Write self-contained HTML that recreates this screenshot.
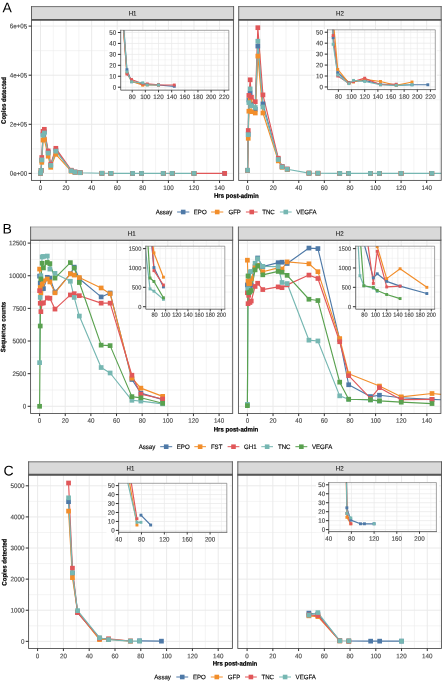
<!DOCTYPE html>
<html lang="en"><head><meta charset="utf-8"><title>Figure</title>
<style>html,body{margin:0;padding:0;background:#fff}svg{display:block;text-rendering:geometricPrecision}text{white-space:pre}</style>
</head><body>
<svg width="442" height="685" viewBox="0 0 442 685" font-family="'Liberation Sans', Arial, sans-serif">
<rect width="442" height="685" fill="#fff"/>
<text transform="translate(2.6 12.2) rotate(0.3)" font-size="14" fill="#000">A</text>
<text transform="translate(5.9 100.5) rotate(-89.7) scale(0.946 1)" font-size="6.45" fill="#000" stroke="#000" stroke-width="0.22" text-anchor="middle" font-weight="bold">Copies detected</text>
<clipPath id="c1"><rect x="31.5" y="20.1" width="202.1" height="160.3"/></clipPath>
<rect x="31.5" y="20.1" width="202.1" height="160.3" fill="#fff"/>
<g clip-path="url(#c1)">
<path d="M31.5 148.85H233.6" stroke="#E9E9E9" stroke-width="0.5" fill="none"/>
<path d="M31.5 99.75H233.6" stroke="#E9E9E9" stroke-width="0.5" fill="none"/>
<path d="M31.5 50.65H233.6" stroke="#E9E9E9" stroke-width="0.5" fill="none"/>
<path d="M53.29 20.1V180.4" stroke="#E9E9E9" stroke-width="0.5" fill="none"/>
<path d="M78.87 20.1V180.4" stroke="#E9E9E9" stroke-width="0.5" fill="none"/>
<path d="M104.45 20.1V180.4" stroke="#E9E9E9" stroke-width="0.5" fill="none"/>
<path d="M130.03 20.1V180.4" stroke="#E9E9E9" stroke-width="0.5" fill="none"/>
<path d="M155.61 20.1V180.4" stroke="#E9E9E9" stroke-width="0.5" fill="none"/>
<path d="M181.19 20.1V180.4" stroke="#E9E9E9" stroke-width="0.5" fill="none"/>
<path d="M206.77 20.1V180.4" stroke="#E9E9E9" stroke-width="0.5" fill="none"/>
<path d="M232.35 20.1V180.4" stroke="#E9E9E9" stroke-width="0.5" fill="none"/>
<path d="M31.5 173.4H233.6" stroke="#E9E9E9" stroke-width="0.95" fill="none"/>
<path d="M31.5 124.3H233.6" stroke="#E9E9E9" stroke-width="0.95" fill="none"/>
<path d="M31.5 75.2H233.6" stroke="#E9E9E9" stroke-width="0.95" fill="none"/>
<path d="M31.5 26.1H233.6" stroke="#E9E9E9" stroke-width="0.95" fill="none"/>
<path d="M40.5 20.1V180.4" stroke="#E9E9E9" stroke-width="0.95" fill="none"/>
<path d="M66.08 20.1V180.4" stroke="#E9E9E9" stroke-width="0.95" fill="none"/>
<path d="M91.66 20.1V180.4" stroke="#E9E9E9" stroke-width="0.95" fill="none"/>
<path d="M117.24 20.1V180.4" stroke="#E9E9E9" stroke-width="0.95" fill="none"/>
<path d="M142.82 20.1V180.4" stroke="#E9E9E9" stroke-width="0.95" fill="none"/>
<path d="M168.4 20.1V180.4" stroke="#E9E9E9" stroke-width="0.95" fill="none"/>
<path d="M193.98 20.1V180.4" stroke="#E9E9E9" stroke-width="0.95" fill="none"/>
<path d="M219.56 20.1V180.4" stroke="#E9E9E9" stroke-width="0.95" fill="none"/>
<path d="M40.5 173.2L41.14 170.4L41.78 160.5L43.06 134.3L44.34 131.8L48.17 152.2L50.73 165.2L55.85 150.2L71.2 170.6L75.03 172.1L80.15 172.6" stroke="#4E79A7" stroke-width="1.15" fill="none" stroke-linejoin="round"/>
<path d="M40.5 173.2L41.14 170.4L41.78 162.3L43.06 140.1L44.34 139.3L48.17 156.2L50.73 167.3L55.85 154.3L71.2 171.2L75.03 172.3L80.15 172.7" stroke="#F28E2B" stroke-width="1.15" fill="none" stroke-linejoin="round"/>
<path d="M40.5 173.2L41.14 170.4L41.78 157.5L43.06 131.4L44.34 129.3L48.17 150.9L50.73 164.2L55.85 148.3L71.2 170.2L75.03 172L80.15 172.6M193.98 173.4L224.68 173.4" stroke="#E15759" stroke-width="1.15" fill="none" stroke-linejoin="round"/>
<path d="M40.5 173.2L41.14 170.4L41.78 159.9L43.06 135.3L44.34 133L48.17 153.1L50.73 165.4L55.85 151.2L71.2 170.7L75.03 172.2L80.15 172.7L101.89 173.3L110.84 173.36L132.59 173.4L141.54 173.4L163.28 173.4L172.24 173.4L193.98 173.4" stroke="#76B7B2" stroke-width="1.15" fill="none" stroke-linejoin="round"/>
<rect x="38.15" y="170.85" width="4.7" height="4.7" fill="#4E79A7"/>
<rect x="38.79" y="168.05" width="4.7" height="4.7" fill="#4E79A7"/>
<rect x="39.43" y="158.15" width="4.7" height="4.7" fill="#4E79A7"/>
<rect x="40.71" y="131.95" width="4.7" height="4.7" fill="#4E79A7"/>
<rect x="41.99" y="129.45" width="4.7" height="4.7" fill="#4E79A7"/>
<rect x="45.82" y="149.85" width="4.7" height="4.7" fill="#4E79A7"/>
<rect x="48.38" y="162.85" width="4.7" height="4.7" fill="#4E79A7"/>
<rect x="53.5" y="147.85" width="4.7" height="4.7" fill="#4E79A7"/>
<rect x="68.85" y="168.25" width="4.7" height="4.7" fill="#4E79A7"/>
<rect x="72.68" y="169.75" width="4.7" height="4.7" fill="#4E79A7"/>
<rect x="77.8" y="170.25" width="4.7" height="4.7" fill="#4E79A7"/>
<rect x="99.54" y="170.95" width="4.7" height="4.7" fill="#4E79A7"/>
<rect x="108.5" y="171.01" width="4.7" height="4.7" fill="#4E79A7"/>
<rect x="130.24" y="171.05" width="4.7" height="4.7" fill="#4E79A7"/>
<rect x="139.19" y="171.05" width="4.7" height="4.7" fill="#4E79A7"/>
<rect x="160.93" y="171.05" width="4.7" height="4.7" fill="#4E79A7"/>
<rect x="169.89" y="171.05" width="4.7" height="4.7" fill="#4E79A7"/>
<rect x="191.63" y="171.05" width="4.7" height="4.7" fill="#4E79A7"/>
<rect x="222.33" y="171.05" width="4.7" height="4.7" fill="#4E79A7"/>
<rect x="38.15" y="170.85" width="4.7" height="4.7" fill="#F28E2B"/>
<rect x="38.79" y="168.05" width="4.7" height="4.7" fill="#F28E2B"/>
<rect x="39.43" y="159.95" width="4.7" height="4.7" fill="#F28E2B"/>
<rect x="40.71" y="137.75" width="4.7" height="4.7" fill="#F28E2B"/>
<rect x="41.99" y="136.95" width="4.7" height="4.7" fill="#F28E2B"/>
<rect x="45.82" y="153.85" width="4.7" height="4.7" fill="#F28E2B"/>
<rect x="48.38" y="164.95" width="4.7" height="4.7" fill="#F28E2B"/>
<rect x="53.5" y="151.95" width="4.7" height="4.7" fill="#F28E2B"/>
<rect x="68.85" y="168.85" width="4.7" height="4.7" fill="#F28E2B"/>
<rect x="72.68" y="169.95" width="4.7" height="4.7" fill="#F28E2B"/>
<rect x="77.8" y="170.35" width="4.7" height="4.7" fill="#F28E2B"/>
<rect x="99.54" y="170.96" width="4.7" height="4.7" fill="#F28E2B"/>
<rect x="108.5" y="171.02" width="4.7" height="4.7" fill="#F28E2B"/>
<rect x="130.24" y="171.05" width="4.7" height="4.7" fill="#F28E2B"/>
<rect x="139.19" y="171.05" width="4.7" height="4.7" fill="#F28E2B"/>
<rect x="160.93" y="171.05" width="4.7" height="4.7" fill="#F28E2B"/>
<rect x="169.89" y="171.05" width="4.7" height="4.7" fill="#F28E2B"/>
<rect x="191.63" y="171.05" width="4.7" height="4.7" fill="#F28E2B"/>
<rect x="38.15" y="170.85" width="4.7" height="4.7" fill="#E15759"/>
<rect x="38.79" y="168.05" width="4.7" height="4.7" fill="#E15759"/>
<rect x="39.43" y="155.15" width="4.7" height="4.7" fill="#E15759"/>
<rect x="40.71" y="129.05" width="4.7" height="4.7" fill="#E15759"/>
<rect x="41.99" y="126.95" width="4.7" height="4.7" fill="#E15759"/>
<rect x="45.82" y="148.55" width="4.7" height="4.7" fill="#E15759"/>
<rect x="48.38" y="161.85" width="4.7" height="4.7" fill="#E15759"/>
<rect x="53.5" y="145.95" width="4.7" height="4.7" fill="#E15759"/>
<rect x="68.85" y="167.85" width="4.7" height="4.7" fill="#E15759"/>
<rect x="72.68" y="169.65" width="4.7" height="4.7" fill="#E15759"/>
<rect x="77.8" y="170.25" width="4.7" height="4.7" fill="#E15759"/>
<rect x="99.54" y="170.95" width="4.7" height="4.7" fill="#E15759"/>
<rect x="108.5" y="171.01" width="4.7" height="4.7" fill="#E15759"/>
<rect x="130.24" y="171.05" width="4.7" height="4.7" fill="#E15759"/>
<rect x="139.19" y="171.05" width="4.7" height="4.7" fill="#E15759"/>
<rect x="160.93" y="171.05" width="4.7" height="4.7" fill="#E15759"/>
<rect x="169.89" y="171.05" width="4.7" height="4.7" fill="#E15759"/>
<rect x="191.63" y="171.05" width="4.7" height="4.7" fill="#E15759"/>
<rect x="222.33" y="171.05" width="4.7" height="4.7" fill="#E15759"/>
<rect x="38.15" y="170.85" width="4.7" height="4.7" fill="#76B7B2"/>
<rect x="38.79" y="168.05" width="4.7" height="4.7" fill="#76B7B2"/>
<rect x="39.43" y="157.55" width="4.7" height="4.7" fill="#76B7B2"/>
<rect x="40.71" y="132.95" width="4.7" height="4.7" fill="#76B7B2"/>
<rect x="41.99" y="130.65" width="4.7" height="4.7" fill="#76B7B2"/>
<rect x="45.82" y="150.75" width="4.7" height="4.7" fill="#76B7B2"/>
<rect x="48.38" y="163.05" width="4.7" height="4.7" fill="#76B7B2"/>
<rect x="53.5" y="148.85" width="4.7" height="4.7" fill="#76B7B2"/>
<rect x="68.85" y="168.35" width="4.7" height="4.7" fill="#76B7B2"/>
<rect x="72.68" y="169.85" width="4.7" height="4.7" fill="#76B7B2"/>
<rect x="77.8" y="170.35" width="4.7" height="4.7" fill="#76B7B2"/>
<rect x="99.54" y="170.95" width="4.7" height="4.7" fill="#76B7B2"/>
<rect x="108.5" y="171.01" width="4.7" height="4.7" fill="#76B7B2"/>
<rect x="130.24" y="171.05" width="4.7" height="4.7" fill="#76B7B2"/>
<rect x="139.19" y="171.05" width="4.7" height="4.7" fill="#76B7B2"/>
<rect x="160.93" y="171.05" width="4.7" height="4.7" fill="#76B7B2"/>
<rect x="169.89" y="171.05" width="4.7" height="4.7" fill="#76B7B2"/>
<rect x="191.63" y="171.05" width="4.7" height="4.7" fill="#76B7B2"/>
</g>
<rect x="31.5" y="20.1" width="202.1" height="160.3" fill="none" stroke="#484848" stroke-width="0.85"/>
<rect x="31.5" y="6.6" width="202.1" height="13.2" fill="#D9D9D9"/>
<path d="M31.5 6.22V19.8" stroke="#484848" stroke-width="0.85" fill="none"/>
<path d="M233.6 6.22V19.8" stroke="#484848" stroke-width="0.85" fill="none"/>
<path d="M31.08 6.6H234.02" stroke="#484848" stroke-width="0.75" fill="none"/>
<path d="M31.08 19.8H234.02" stroke="#555555" stroke-width="1.5" fill="none"/>
<text transform="translate(132.55 15.4) rotate(0.3) scale(0.946 1)" font-size="6.45" fill="#1A1A1A" stroke="#1A1A1A" stroke-width="0.14" text-anchor="middle">H1</text>
<path d="M40.5 180.4V183" stroke="#333333" stroke-width="1" fill="none"/>
<text transform="translate(40.5 190.1) rotate(0.3) scale(0.945 1)" font-size="6.6" fill="#454545" stroke="#454545" stroke-width="0.14" text-anchor="middle">0</text>
<path d="M66.08 180.4V183" stroke="#333333" stroke-width="1" fill="none"/>
<text transform="translate(66.08 190.1) rotate(0.3) scale(0.945 1)" font-size="6.6" fill="#454545" stroke="#454545" stroke-width="0.14" text-anchor="middle">20</text>
<path d="M91.66 180.4V183" stroke="#333333" stroke-width="1" fill="none"/>
<text transform="translate(91.66 190.1) rotate(0.3) scale(0.945 1)" font-size="6.6" fill="#454545" stroke="#454545" stroke-width="0.14" text-anchor="middle">40</text>
<path d="M117.24 180.4V183" stroke="#333333" stroke-width="1" fill="none"/>
<text transform="translate(117.24 190.1) rotate(0.3) scale(0.945 1)" font-size="6.6" fill="#454545" stroke="#454545" stroke-width="0.14" text-anchor="middle">60</text>
<path d="M142.82 180.4V183" stroke="#333333" stroke-width="1" fill="none"/>
<text transform="translate(142.82 190.1) rotate(0.3) scale(0.945 1)" font-size="6.6" fill="#454545" stroke="#454545" stroke-width="0.14" text-anchor="middle">80</text>
<path d="M168.4 180.4V183" stroke="#333333" stroke-width="1" fill="none"/>
<text transform="translate(168.4 190.1) rotate(0.3) scale(0.945 1)" font-size="6.6" fill="#454545" stroke="#454545" stroke-width="0.14" text-anchor="middle">100</text>
<path d="M193.98 180.4V183" stroke="#333333" stroke-width="1" fill="none"/>
<text transform="translate(193.98 190.1) rotate(0.3) scale(0.945 1)" font-size="6.6" fill="#454545" stroke="#454545" stroke-width="0.14" text-anchor="middle">120</text>
<path d="M219.56 180.4V183" stroke="#333333" stroke-width="1" fill="none"/>
<text transform="translate(219.56 190.1) rotate(0.3) scale(0.945 1)" font-size="6.6" fill="#454545" stroke="#454545" stroke-width="0.14" text-anchor="middle">140</text>
<path d="M28.6 173.4H31.5" stroke="#333333" stroke-width="1.05" fill="none"/>
<text transform="translate(27.2 175.7) rotate(0.3) scale(0.945 1)" font-size="6.6" fill="#454545" stroke="#454545" stroke-width="0.14" text-anchor="end">0e+00</text>
<path d="M28.6 124.3H31.5" stroke="#333333" stroke-width="1.05" fill="none"/>
<text transform="translate(27.2 126.6) rotate(0.3) scale(0.945 1)" font-size="6.6" fill="#454545" stroke="#454545" stroke-width="0.14" text-anchor="end">2e+05</text>
<path d="M28.6 75.2H31.5" stroke="#333333" stroke-width="1.05" fill="none"/>
<text transform="translate(27.2 77.5) rotate(0.3) scale(0.945 1)" font-size="6.6" fill="#454545" stroke="#454545" stroke-width="0.14" text-anchor="end">4e+05</text>
<path d="M28.6 26.1H31.5" stroke="#333333" stroke-width="1.05" fill="none"/>
<text transform="translate(27.2 28.4) rotate(0.3) scale(0.945 1)" font-size="6.6" fill="#454545" stroke="#454545" stroke-width="0.14" text-anchor="end">6e+05</text>
<clipPath id="c2"><rect x="238.7" y="20.1" width="202.5" height="160.3"/></clipPath>
<rect x="238.7" y="20.1" width="202.5" height="160.3" fill="#fff"/>
<g clip-path="url(#c2)">
<path d="M238.7 148.85H441.2" stroke="#E9E9E9" stroke-width="0.5" fill="none"/>
<path d="M238.7 99.75H441.2" stroke="#E9E9E9" stroke-width="0.5" fill="none"/>
<path d="M238.7 50.65H441.2" stroke="#E9E9E9" stroke-width="0.5" fill="none"/>
<path d="M260.39 20.1V180.4" stroke="#E9E9E9" stroke-width="0.5" fill="none"/>
<path d="M285.97 20.1V180.4" stroke="#E9E9E9" stroke-width="0.5" fill="none"/>
<path d="M311.55 20.1V180.4" stroke="#E9E9E9" stroke-width="0.5" fill="none"/>
<path d="M337.13 20.1V180.4" stroke="#E9E9E9" stroke-width="0.5" fill="none"/>
<path d="M362.71 20.1V180.4" stroke="#E9E9E9" stroke-width="0.5" fill="none"/>
<path d="M388.29 20.1V180.4" stroke="#E9E9E9" stroke-width="0.5" fill="none"/>
<path d="M413.87 20.1V180.4" stroke="#E9E9E9" stroke-width="0.5" fill="none"/>
<path d="M439.45 20.1V180.4" stroke="#E9E9E9" stroke-width="0.5" fill="none"/>
<path d="M238.7 173.4H441.2" stroke="#E9E9E9" stroke-width="0.95" fill="none"/>
<path d="M238.7 124.3H441.2" stroke="#E9E9E9" stroke-width="0.95" fill="none"/>
<path d="M238.7 75.2H441.2" stroke="#E9E9E9" stroke-width="0.95" fill="none"/>
<path d="M238.7 26.1H441.2" stroke="#E9E9E9" stroke-width="0.95" fill="none"/>
<path d="M247.6 20.1V180.4" stroke="#E9E9E9" stroke-width="0.95" fill="none"/>
<path d="M273.18 20.1V180.4" stroke="#E9E9E9" stroke-width="0.95" fill="none"/>
<path d="M298.76 20.1V180.4" stroke="#E9E9E9" stroke-width="0.95" fill="none"/>
<path d="M324.34 20.1V180.4" stroke="#E9E9E9" stroke-width="0.95" fill="none"/>
<path d="M349.92 20.1V180.4" stroke="#E9E9E9" stroke-width="0.95" fill="none"/>
<path d="M375.5 20.1V180.4" stroke="#E9E9E9" stroke-width="0.95" fill="none"/>
<path d="M401.08 20.1V180.4" stroke="#E9E9E9" stroke-width="0.95" fill="none"/>
<path d="M426.66 20.1V180.4" stroke="#E9E9E9" stroke-width="0.95" fill="none"/>
<path d="M247.6 170.3L248.24 134L248.88 100L250.16 93L251.44 104L255.27 109.3L257.83 46.1L262.95 103.9L278.3 159.2L282.13 166.7L287.25 169.2M493.17 173.4L523.86 173.4" stroke="#4E79A7" stroke-width="1.15" fill="none" stroke-linejoin="round"/>
<path d="M247.6 170.5L248.24 138.3L248.88 111.2L250.16 100.3L251.44 111.7L255.27 113L257.83 56.1L262.95 113L278.3 160.9L282.13 167.3L287.25 169.6" stroke="#F28E2B" stroke-width="1.15" fill="none" stroke-linejoin="round"/>
<path d="M247.6 170.3L248.24 130.5L248.88 95.4L250.16 79.8L251.44 97.2L255.27 101.7L257.83 27.7L262.95 94.9L278.3 158.2L282.13 166.4L287.25 169" stroke="#E15759" stroke-width="1.15" fill="none" stroke-linejoin="round"/>
<path d="M247.6 170.3L248.24 134.7L248.88 102.6L250.16 88.9L251.44 105.7L255.27 107.5L257.83 41.2L262.95 107L278.3 159.5L282.13 166.9L287.25 169.3L308.99 173.18L317.94 173.28L339.69 173.39L348.64 173.4L370.38 173.4L379.34 173.4L401.08 173.4L431.78 173.4L462.47 173.4L493.17 173.4" stroke="#76B7B2" stroke-width="1.15" fill="none" stroke-linejoin="round"/>
<rect x="245.25" y="167.95" width="4.7" height="4.7" fill="#4E79A7"/>
<rect x="245.89" y="131.65" width="4.7" height="4.7" fill="#4E79A7"/>
<rect x="246.53" y="97.65" width="4.7" height="4.7" fill="#4E79A7"/>
<rect x="247.81" y="90.65" width="4.7" height="4.7" fill="#4E79A7"/>
<rect x="249.09" y="101.65" width="4.7" height="4.7" fill="#4E79A7"/>
<rect x="252.92" y="106.95" width="4.7" height="4.7" fill="#4E79A7"/>
<rect x="255.48" y="43.75" width="4.7" height="4.7" fill="#4E79A7"/>
<rect x="260.6" y="101.55" width="4.7" height="4.7" fill="#4E79A7"/>
<rect x="275.95" y="156.85" width="4.7" height="4.7" fill="#4E79A7"/>
<rect x="279.78" y="164.35" width="4.7" height="4.7" fill="#4E79A7"/>
<rect x="284.9" y="166.85" width="4.7" height="4.7" fill="#4E79A7"/>
<rect x="306.64" y="170.83" width="4.7" height="4.7" fill="#4E79A7"/>
<rect x="315.59" y="170.93" width="4.7" height="4.7" fill="#4E79A7"/>
<rect x="337.34" y="171.04" width="4.7" height="4.7" fill="#4E79A7"/>
<rect x="346.29" y="171.05" width="4.7" height="4.7" fill="#4E79A7"/>
<rect x="368.03" y="171.05" width="4.7" height="4.7" fill="#4E79A7"/>
<rect x="376.99" y="171.05" width="4.7" height="4.7" fill="#4E79A7"/>
<rect x="398.73" y="171.05" width="4.7" height="4.7" fill="#4E79A7"/>
<rect x="429.43" y="171.05" width="4.7" height="4.7" fill="#4E79A7"/>
<rect x="245.25" y="168.15" width="4.7" height="4.7" fill="#F28E2B"/>
<rect x="245.89" y="135.95" width="4.7" height="4.7" fill="#F28E2B"/>
<rect x="246.53" y="108.85" width="4.7" height="4.7" fill="#F28E2B"/>
<rect x="247.81" y="97.95" width="4.7" height="4.7" fill="#F28E2B"/>
<rect x="249.09" y="109.35" width="4.7" height="4.7" fill="#F28E2B"/>
<rect x="252.92" y="110.65" width="4.7" height="4.7" fill="#F28E2B"/>
<rect x="255.48" y="53.75" width="4.7" height="4.7" fill="#F28E2B"/>
<rect x="260.6" y="110.65" width="4.7" height="4.7" fill="#F28E2B"/>
<rect x="275.95" y="158.55" width="4.7" height="4.7" fill="#F28E2B"/>
<rect x="279.78" y="164.95" width="4.7" height="4.7" fill="#F28E2B"/>
<rect x="284.9" y="167.25" width="4.7" height="4.7" fill="#F28E2B"/>
<rect x="306.64" y="170.8" width="4.7" height="4.7" fill="#F28E2B"/>
<rect x="315.59" y="170.9" width="4.7" height="4.7" fill="#F28E2B"/>
<rect x="337.34" y="171.03" width="4.7" height="4.7" fill="#F28E2B"/>
<rect x="346.29" y="171.05" width="4.7" height="4.7" fill="#F28E2B"/>
<rect x="368.03" y="171.05" width="4.7" height="4.7" fill="#F28E2B"/>
<rect x="376.99" y="171.05" width="4.7" height="4.7" fill="#F28E2B"/>
<rect x="398.73" y="171.05" width="4.7" height="4.7" fill="#F28E2B"/>
<rect x="429.43" y="171.05" width="4.7" height="4.7" fill="#F28E2B"/>
<rect x="245.25" y="167.95" width="4.7" height="4.7" fill="#E15759"/>
<rect x="245.89" y="128.15" width="4.7" height="4.7" fill="#E15759"/>
<rect x="246.53" y="93.05" width="4.7" height="4.7" fill="#E15759"/>
<rect x="247.81" y="77.45" width="4.7" height="4.7" fill="#E15759"/>
<rect x="249.09" y="94.85" width="4.7" height="4.7" fill="#E15759"/>
<rect x="252.92" y="99.35" width="4.7" height="4.7" fill="#E15759"/>
<rect x="255.48" y="25.35" width="4.7" height="4.7" fill="#E15759"/>
<rect x="260.6" y="92.55" width="4.7" height="4.7" fill="#E15759"/>
<rect x="275.95" y="155.85" width="4.7" height="4.7" fill="#E15759"/>
<rect x="279.78" y="164.05" width="4.7" height="4.7" fill="#E15759"/>
<rect x="284.9" y="166.65" width="4.7" height="4.7" fill="#E15759"/>
<rect x="306.64" y="170.82" width="4.7" height="4.7" fill="#E15759"/>
<rect x="315.59" y="170.92" width="4.7" height="4.7" fill="#E15759"/>
<rect x="337.34" y="171.04" width="4.7" height="4.7" fill="#E15759"/>
<rect x="346.29" y="171.05" width="4.7" height="4.7" fill="#E15759"/>
<rect x="368.03" y="171.05" width="4.7" height="4.7" fill="#E15759"/>
<rect x="376.99" y="171.05" width="4.7" height="4.7" fill="#E15759"/>
<rect x="398.73" y="171.05" width="4.7" height="4.7" fill="#E15759"/>
<rect x="429.43" y="171.05" width="4.7" height="4.7" fill="#E15759"/>
<rect x="245.25" y="167.95" width="4.7" height="4.7" fill="#76B7B2"/>
<rect x="245.89" y="132.35" width="4.7" height="4.7" fill="#76B7B2"/>
<rect x="246.53" y="100.25" width="4.7" height="4.7" fill="#76B7B2"/>
<rect x="247.81" y="86.55" width="4.7" height="4.7" fill="#76B7B2"/>
<rect x="249.09" y="103.35" width="4.7" height="4.7" fill="#76B7B2"/>
<rect x="252.92" y="105.15" width="4.7" height="4.7" fill="#76B7B2"/>
<rect x="255.48" y="38.85" width="4.7" height="4.7" fill="#76B7B2"/>
<rect x="260.6" y="104.65" width="4.7" height="4.7" fill="#76B7B2"/>
<rect x="275.95" y="157.15" width="4.7" height="4.7" fill="#76B7B2"/>
<rect x="279.78" y="164.55" width="4.7" height="4.7" fill="#76B7B2"/>
<rect x="284.9" y="166.95" width="4.7" height="4.7" fill="#76B7B2"/>
<rect x="306.64" y="170.83" width="4.7" height="4.7" fill="#76B7B2"/>
<rect x="315.59" y="170.93" width="4.7" height="4.7" fill="#76B7B2"/>
<rect x="337.34" y="171.04" width="4.7" height="4.7" fill="#76B7B2"/>
<rect x="346.29" y="171.05" width="4.7" height="4.7" fill="#76B7B2"/>
<rect x="368.03" y="171.05" width="4.7" height="4.7" fill="#76B7B2"/>
<rect x="376.99" y="171.05" width="4.7" height="4.7" fill="#76B7B2"/>
<rect x="398.73" y="171.05" width="4.7" height="4.7" fill="#76B7B2"/>
<rect x="429.43" y="171.05" width="4.7" height="4.7" fill="#76B7B2"/>
</g>
<rect x="238.7" y="20.1" width="202.5" height="160.3" fill="none" stroke="#484848" stroke-width="0.85"/>
<rect x="238.7" y="6.6" width="202.5" height="13.2" fill="#D9D9D9"/>
<path d="M238.7 6.22V19.8" stroke="#484848" stroke-width="0.85" fill="none"/>
<path d="M441.2 6.22V19.8" stroke="#484848" stroke-width="0.85" fill="none"/>
<path d="M238.28 6.6H441.62" stroke="#484848" stroke-width="0.75" fill="none"/>
<path d="M238.28 19.8H441.62" stroke="#555555" stroke-width="1.5" fill="none"/>
<text transform="translate(339.95 15.4) rotate(0.3) scale(0.946 1)" font-size="6.45" fill="#1A1A1A" stroke="#1A1A1A" stroke-width="0.14" text-anchor="middle">H2</text>
<path d="M247.6 180.4V183" stroke="#333333" stroke-width="1" fill="none"/>
<text transform="translate(247.6 190.1) rotate(0.3) scale(0.945 1)" font-size="6.6" fill="#454545" stroke="#454545" stroke-width="0.14" text-anchor="middle">0</text>
<path d="M273.18 180.4V183" stroke="#333333" stroke-width="1" fill="none"/>
<text transform="translate(273.18 190.1) rotate(0.3) scale(0.945 1)" font-size="6.6" fill="#454545" stroke="#454545" stroke-width="0.14" text-anchor="middle">20</text>
<path d="M298.76 180.4V183" stroke="#333333" stroke-width="1" fill="none"/>
<text transform="translate(298.76 190.1) rotate(0.3) scale(0.945 1)" font-size="6.6" fill="#454545" stroke="#454545" stroke-width="0.14" text-anchor="middle">40</text>
<path d="M324.34 180.4V183" stroke="#333333" stroke-width="1" fill="none"/>
<text transform="translate(324.34 190.1) rotate(0.3) scale(0.945 1)" font-size="6.6" fill="#454545" stroke="#454545" stroke-width="0.14" text-anchor="middle">60</text>
<path d="M349.92 180.4V183" stroke="#333333" stroke-width="1" fill="none"/>
<text transform="translate(349.92 190.1) rotate(0.3) scale(0.945 1)" font-size="6.6" fill="#454545" stroke="#454545" stroke-width="0.14" text-anchor="middle">80</text>
<path d="M375.5 180.4V183" stroke="#333333" stroke-width="1" fill="none"/>
<text transform="translate(375.5 190.1) rotate(0.3) scale(0.945 1)" font-size="6.6" fill="#454545" stroke="#454545" stroke-width="0.14" text-anchor="middle">100</text>
<path d="M401.08 180.4V183" stroke="#333333" stroke-width="1" fill="none"/>
<text transform="translate(401.08 190.1) rotate(0.3) scale(0.945 1)" font-size="6.6" fill="#454545" stroke="#454545" stroke-width="0.14" text-anchor="middle">120</text>
<path d="M426.66 180.4V183" stroke="#333333" stroke-width="1" fill="none"/>
<text transform="translate(426.66 190.1) rotate(0.3) scale(0.945 1)" font-size="6.6" fill="#454545" stroke="#454545" stroke-width="0.14" text-anchor="middle">140</text>
<text transform="translate(236.3 197.9) rotate(0.3) scale(0.946 1)" font-size="6.45" fill="#000" stroke="#000" stroke-width="0.22" text-anchor="middle" font-weight="bold">Hrs post-admin</text>
<rect x="107.6" y="29.8" width="122.6" height="60.8" fill="#fff"/>
<clipPath id="c3"><rect x="120.7" y="30.3" width="108.1" height="59.85"/></clipPath>
<rect x="120.7" y="30.3" width="108.1" height="59.85" fill="#fff"/>
<g clip-path="url(#c3)">
<path d="M120.7 81.73H228.8" stroke="#E9E9E9" stroke-width="0.45" fill="none"/>
<path d="M120.7 70.79H228.8" stroke="#E9E9E9" stroke-width="0.45" fill="none"/>
<path d="M120.7 59.85H228.8" stroke="#E9E9E9" stroke-width="0.45" fill="none"/>
<path d="M120.7 48.91H228.8" stroke="#E9E9E9" stroke-width="0.45" fill="none"/>
<path d="M120.7 37.97H228.8" stroke="#E9E9E9" stroke-width="0.45" fill="none"/>
<path d="M125.62 30.3V90.15" stroke="#E9E9E9" stroke-width="0.45" fill="none"/>
<path d="M138.77 30.3V90.15" stroke="#E9E9E9" stroke-width="0.45" fill="none"/>
<path d="M151.93 30.3V90.15" stroke="#E9E9E9" stroke-width="0.45" fill="none"/>
<path d="M165.07 30.3V90.15" stroke="#E9E9E9" stroke-width="0.45" fill="none"/>
<path d="M178.22 30.3V90.15" stroke="#E9E9E9" stroke-width="0.45" fill="none"/>
<path d="M191.38 30.3V90.15" stroke="#E9E9E9" stroke-width="0.45" fill="none"/>
<path d="M204.52 30.3V90.15" stroke="#E9E9E9" stroke-width="0.45" fill="none"/>
<path d="M217.67 30.3V90.15" stroke="#E9E9E9" stroke-width="0.45" fill="none"/>
<path d="M230.82 30.3V90.15" stroke="#E9E9E9" stroke-width="0.45" fill="none"/>
<path d="M120.7 87.2H228.8" stroke="#E9E9E9" stroke-width="0.75" fill="none"/>
<path d="M120.7 76.26H228.8" stroke="#E9E9E9" stroke-width="0.75" fill="none"/>
<path d="M120.7 65.32H228.8" stroke="#E9E9E9" stroke-width="0.75" fill="none"/>
<path d="M120.7 54.38H228.8" stroke="#E9E9E9" stroke-width="0.75" fill="none"/>
<path d="M120.7 43.44H228.8" stroke="#E9E9E9" stroke-width="0.75" fill="none"/>
<path d="M120.7 32.5H228.8" stroke="#E9E9E9" stroke-width="0.75" fill="none"/>
<path d="M132.2 30.3V90.15" stroke="#E9E9E9" stroke-width="0.75" fill="none"/>
<path d="M145.35 30.3V90.15" stroke="#E9E9E9" stroke-width="0.75" fill="none"/>
<path d="M158.5 30.3V90.15" stroke="#E9E9E9" stroke-width="0.75" fill="none"/>
<path d="M171.65 30.3V90.15" stroke="#E9E9E9" stroke-width="0.75" fill="none"/>
<path d="M184.8 30.3V90.15" stroke="#E9E9E9" stroke-width="0.75" fill="none"/>
<path d="M197.95 30.3V90.15" stroke="#E9E9E9" stroke-width="0.75" fill="none"/>
<path d="M211.1 30.3V90.15" stroke="#E9E9E9" stroke-width="0.75" fill="none"/>
<path d="M224.25 30.3V90.15" stroke="#E9E9E9" stroke-width="0.75" fill="none"/>
<path d="M79.6 -804.04L79.93 -13281.44L80.26 -57397.93L80.91 -174150.68L81.57 -185291.21L83.54 -94384.49L84.86 -36453.74L87.49 -103296.91L95.38 -12390.19L97.35 -5705.88L99.98 -3477.77L111.16 -350.4L115.76 -76.9L126.94 69.7L131.54 81.73L142.72 83.92L147.32 84.47L158.5 85.01L174.28 86.32" stroke="#4E79A7" stroke-width="1.2" fill="none" stroke-linejoin="round"/>
<path d="M79.6 -804.04L79.93 -13281.44L80.26 -49376.75L80.91 -148304.65L81.57 -151869.62L83.54 -76559.64L84.86 -27095.69L87.49 -85026.45L95.38 -9716.47L97.35 -4814.63L99.98 -3032.15L111.16 -328.52L115.76 -65.96L126.94 72.98L131.54 81.18L142.72 85.23L147.32 84.79L158.5 85.01" stroke="#F28E2B" stroke-width="1.2" fill="none" stroke-linejoin="round"/>
<path d="M79.6 -804.04L79.93 -13281.44L80.26 -70766.57L80.91 -187073.7L81.57 -196431.74L83.54 -100177.57L84.86 -40909.95L87.49 -111763.72L95.38 -14172.68L97.35 -6151.5L99.98 -3477.77L111.16 -372.28L115.76 -71.43L126.94 74.07L131.54 79.54L142.72 83.92L147.32 83.92L158.5 84.79L174.28 85.01" stroke="#E15759" stroke-width="1.2" fill="none" stroke-linejoin="round"/>
<path d="M79.6 -804.04L79.93 -13281.44L80.26 -60071.66L80.91 -169694.47L81.57 -179943.76L83.54 -90373.9L84.86 -35562.49L87.49 -98840.7L95.38 -11944.57L97.35 -5260.25L99.98 -3032.15L111.16 -350.4L115.76 -76.9L126.94 71.88L131.54 81.73L142.72 82.82L147.32 85.01L158.5 85.01" stroke="#76B7B2" stroke-width="1.2" fill="none" stroke-linejoin="round"/>
<rect x="125.49" y="68.25" width="2.9" height="2.9" fill="#4E79A7"/>
<rect x="130.09" y="80.28" width="2.9" height="2.9" fill="#4E79A7"/>
<rect x="141.27" y="82.47" width="2.9" height="2.9" fill="#4E79A7"/>
<rect x="145.87" y="83.02" width="2.9" height="2.9" fill="#4E79A7"/>
<rect x="157.05" y="83.56" width="2.9" height="2.9" fill="#4E79A7"/>
<rect x="172.83" y="84.87" width="2.9" height="2.9" fill="#4E79A7"/>
<rect x="125.49" y="71.53" width="2.9" height="2.9" fill="#F28E2B"/>
<rect x="130.09" y="79.73" width="2.9" height="2.9" fill="#F28E2B"/>
<rect x="141.27" y="83.78" width="2.9" height="2.9" fill="#F28E2B"/>
<rect x="145.87" y="83.34" width="2.9" height="2.9" fill="#F28E2B"/>
<rect x="157.05" y="83.56" width="2.9" height="2.9" fill="#F28E2B"/>
<rect x="125.49" y="72.62" width="2.9" height="2.9" fill="#E15759"/>
<rect x="130.09" y="78.09" width="2.9" height="2.9" fill="#E15759"/>
<rect x="141.27" y="82.47" width="2.9" height="2.9" fill="#E15759"/>
<rect x="145.87" y="82.47" width="2.9" height="2.9" fill="#E15759"/>
<rect x="157.05" y="83.34" width="2.9" height="2.9" fill="#E15759"/>
<rect x="172.83" y="83.56" width="2.9" height="2.9" fill="#E15759"/>
<rect x="125.49" y="70.43" width="2.9" height="2.9" fill="#76B7B2"/>
<rect x="130.09" y="80.28" width="2.9" height="2.9" fill="#76B7B2"/>
<rect x="141.27" y="81.37" width="2.9" height="2.9" fill="#76B7B2"/>
<rect x="145.87" y="83.56" width="2.9" height="2.9" fill="#76B7B2"/>
<rect x="157.05" y="83.56" width="2.9" height="2.9" fill="#76B7B2"/>
</g>
<path d="M120.7 30.3H228.8V90.15" stroke="#484848" stroke-width="0.5" fill="none"/>
<path d="M120.7 30.3V90.15H228.8" stroke="#484848" stroke-width="0.8" fill="none" stroke-linecap="square"/>
<path d="M132.2 90.15V92.35" stroke="#333333" stroke-width="0.95" fill="none"/>
<text transform="translate(132.2 99.1) rotate(0.3) scale(0.955 1)" font-size="6.5" fill="#454545" stroke="#454545" stroke-width="0.14" text-anchor="middle">80</text>
<path d="M145.35 90.15V92.35" stroke="#333333" stroke-width="0.95" fill="none"/>
<text transform="translate(145.35 99.1) rotate(0.3) scale(0.955 1)" font-size="6.5" fill="#454545" stroke="#454545" stroke-width="0.14" text-anchor="middle">100</text>
<path d="M158.5 90.15V92.35" stroke="#333333" stroke-width="0.95" fill="none"/>
<text transform="translate(158.5 99.1) rotate(0.3) scale(0.955 1)" font-size="6.5" fill="#454545" stroke="#454545" stroke-width="0.14" text-anchor="middle">120</text>
<path d="M171.65 90.15V92.35" stroke="#333333" stroke-width="0.95" fill="none"/>
<text transform="translate(171.65 99.1) rotate(0.3) scale(0.955 1)" font-size="6.5" fill="#454545" stroke="#454545" stroke-width="0.14" text-anchor="middle">140</text>
<path d="M184.8 90.15V92.35" stroke="#333333" stroke-width="0.95" fill="none"/>
<text transform="translate(184.8 99.1) rotate(0.3) scale(0.955 1)" font-size="6.5" fill="#454545" stroke="#454545" stroke-width="0.14" text-anchor="middle">160</text>
<path d="M197.95 90.15V92.35" stroke="#333333" stroke-width="0.95" fill="none"/>
<text transform="translate(197.95 99.1) rotate(0.3) scale(0.955 1)" font-size="6.5" fill="#454545" stroke="#454545" stroke-width="0.14" text-anchor="middle">180</text>
<path d="M211.1 90.15V92.35" stroke="#333333" stroke-width="0.95" fill="none"/>
<text transform="translate(211.1 99.1) rotate(0.3) scale(0.955 1)" font-size="6.5" fill="#454545" stroke="#454545" stroke-width="0.14" text-anchor="middle">200</text>
<path d="M224.25 90.15V92.35" stroke="#333333" stroke-width="0.95" fill="none"/>
<text transform="translate(224.25 99.1) rotate(0.3) scale(0.955 1)" font-size="6.5" fill="#454545" stroke="#454545" stroke-width="0.14" text-anchor="middle">220</text>
<path d="M117.9 87.2H120.7" stroke="#333333" stroke-width="1.05" fill="none"/>
<text transform="translate(116.2 89.4) rotate(0.3) scale(0.955 1)" font-size="6.5" fill="#454545" stroke="#454545" stroke-width="0.14" text-anchor="end">0</text>
<path d="M117.9 76.26H120.7" stroke="#333333" stroke-width="1.05" fill="none"/>
<text transform="translate(116.2 78.46) rotate(0.3) scale(0.955 1)" font-size="6.5" fill="#454545" stroke="#454545" stroke-width="0.14" text-anchor="end">10</text>
<path d="M117.9 65.32H120.7" stroke="#333333" stroke-width="1.05" fill="none"/>
<text transform="translate(116.2 67.52) rotate(0.3) scale(0.955 1)" font-size="6.5" fill="#454545" stroke="#454545" stroke-width="0.14" text-anchor="end">20</text>
<path d="M117.9 54.38H120.7" stroke="#333333" stroke-width="1.05" fill="none"/>
<text transform="translate(116.2 56.58) rotate(0.3) scale(0.955 1)" font-size="6.5" fill="#454545" stroke="#454545" stroke-width="0.14" text-anchor="end">30</text>
<path d="M117.9 43.44H120.7" stroke="#333333" stroke-width="1.05" fill="none"/>
<text transform="translate(116.2 45.64) rotate(0.3) scale(0.955 1)" font-size="6.5" fill="#454545" stroke="#454545" stroke-width="0.14" text-anchor="end">40</text>
<path d="M117.9 32.5H120.7" stroke="#333333" stroke-width="1.05" fill="none"/>
<text transform="translate(116.2 34.7) rotate(0.3) scale(0.955 1)" font-size="6.5" fill="#454545" stroke="#454545" stroke-width="0.14" text-anchor="end">50</text>
<rect x="314.8" y="29.4" width="122" height="60.7" fill="#fff"/>
<clipPath id="c4"><rect x="327.5" y="29.8" width="107.8" height="59.8"/></clipPath>
<rect x="327.5" y="29.8" width="107.8" height="59.8" fill="#fff"/>
<g clip-path="url(#c4)">
<path d="M327.5 81.48H435.3" stroke="#E9E9E9" stroke-width="0.45" fill="none"/>
<path d="M327.5 70.54H435.3" stroke="#E9E9E9" stroke-width="0.45" fill="none"/>
<path d="M327.5 59.6H435.3" stroke="#E9E9E9" stroke-width="0.45" fill="none"/>
<path d="M327.5 48.66H435.3" stroke="#E9E9E9" stroke-width="0.45" fill="none"/>
<path d="M327.5 37.72H435.3" stroke="#E9E9E9" stroke-width="0.45" fill="none"/>
<path d="M331.82 29.8V89.6" stroke="#E9E9E9" stroke-width="0.45" fill="none"/>
<path d="M344.97 29.8V89.6" stroke="#E9E9E9" stroke-width="0.45" fill="none"/>
<path d="M358.12 29.8V89.6" stroke="#E9E9E9" stroke-width="0.45" fill="none"/>
<path d="M371.27 29.8V89.6" stroke="#E9E9E9" stroke-width="0.45" fill="none"/>
<path d="M384.42 29.8V89.6" stroke="#E9E9E9" stroke-width="0.45" fill="none"/>
<path d="M397.57 29.8V89.6" stroke="#E9E9E9" stroke-width="0.45" fill="none"/>
<path d="M410.72 29.8V89.6" stroke="#E9E9E9" stroke-width="0.45" fill="none"/>
<path d="M423.87 29.8V89.6" stroke="#E9E9E9" stroke-width="0.45" fill="none"/>
<path d="M437.02 29.8V89.6" stroke="#E9E9E9" stroke-width="0.45" fill="none"/>
<path d="M327.5 86.95H435.3" stroke="#E9E9E9" stroke-width="0.75" fill="none"/>
<path d="M327.5 76.01H435.3" stroke="#E9E9E9" stroke-width="0.75" fill="none"/>
<path d="M327.5 65.07H435.3" stroke="#E9E9E9" stroke-width="0.75" fill="none"/>
<path d="M327.5 54.13H435.3" stroke="#E9E9E9" stroke-width="0.75" fill="none"/>
<path d="M327.5 43.19H435.3" stroke="#E9E9E9" stroke-width="0.75" fill="none"/>
<path d="M327.5 32.25H435.3" stroke="#E9E9E9" stroke-width="0.75" fill="none"/>
<path d="M338.4 29.8V89.6" stroke="#E9E9E9" stroke-width="0.75" fill="none"/>
<path d="M351.55 29.8V89.6" stroke="#E9E9E9" stroke-width="0.75" fill="none"/>
<path d="M364.7 29.8V89.6" stroke="#E9E9E9" stroke-width="0.75" fill="none"/>
<path d="M377.85 29.8V89.6" stroke="#E9E9E9" stroke-width="0.75" fill="none"/>
<path d="M391 29.8V89.6" stroke="#E9E9E9" stroke-width="0.75" fill="none"/>
<path d="M404.15 29.8V89.6" stroke="#E9E9E9" stroke-width="0.75" fill="none"/>
<path d="M417.3 29.8V89.6" stroke="#E9E9E9" stroke-width="0.75" fill="none"/>
<path d="M430.45 29.8V89.6" stroke="#E9E9E9" stroke-width="0.75" fill="none"/>
<path d="M285.8 -13727.31L286.13 -175487.8L286.46 -326999L287.11 -358192.48L287.77 -309174.15L289.74 -285556.23L291.06 -567188.81L293.69 -309619.77L301.58 -63191.26L303.55 -29769.67L306.18 -18629.14L317.36 -897.65L321.96 -460.05L333.14 37.72L337.74 72.73L348.92 82.57L353.52 81.48L364.7 80.39L380.48 84.22L396.26 85.31L412.04 84.76L427.82 84.76" stroke="#4E79A7" stroke-width="1.2" fill="none" stroke-linejoin="round"/>
<path d="M285.8 -12836.06L286.13 -156326.08L286.46 -277089.42L287.11 -325662.13L287.77 -274861.32L289.74 -269068.24L291.06 -522626.7L293.69 -269068.24L301.58 -55615.7L303.55 -27095.94L306.18 -16846.65L317.36 -1007.05L321.96 -569.45L333.14 19.12L337.74 69.45L348.92 83.12L353.52 82.03L364.7 79.29L380.48 81.48L396.26 85.31L412.04 82.03" stroke="#F28E2B" stroke-width="1.2" fill="none" stroke-linejoin="round"/>
<path d="M285.8 -13727.31L286.13 -191084.54L286.46 -347497.57L287.11 -417014.48L287.77 -339476.39L289.74 -319423.44L291.06 -649183.11L293.69 -349725.68L301.58 -67647.47L303.55 -31106.53L306.18 -19520.38L317.36 -952.35L321.96 -481.93L333.14 35.53L337.74 76.01L348.92 83.12L353.52 81.48L364.7 78.2L380.48 84.76L396.26 84.22" stroke="#E15759" stroke-width="1.2" fill="none" stroke-linejoin="round"/>
<path d="M285.8 -13727.31L286.13 -172368.45L286.46 -315412.85L287.11 -376462.95L287.77 -301598.59L289.74 -293577.41L291.06 -589024.25L293.69 -295805.51L301.58 -61854.39L303.55 -28878.43L306.18 -18183.52L317.36 -897.65L321.96 -438.17L333.14 44.28L337.74 74.92L348.92 83.67L353.52 80.39L364.7 81.48L380.48 84.76L396.26 85.31L412.04 84.76" stroke="#76B7B2" stroke-width="1.2" fill="none" stroke-linejoin="round"/>
<rect x="331.69" y="36.27" width="2.9" height="2.9" fill="#4E79A7"/>
<rect x="336.29" y="71.28" width="2.9" height="2.9" fill="#4E79A7"/>
<rect x="347.47" y="81.12" width="2.9" height="2.9" fill="#4E79A7"/>
<rect x="352.07" y="80.03" width="2.9" height="2.9" fill="#4E79A7"/>
<rect x="363.25" y="78.94" width="2.9" height="2.9" fill="#4E79A7"/>
<rect x="379.03" y="82.77" width="2.9" height="2.9" fill="#4E79A7"/>
<rect x="394.81" y="83.86" width="2.9" height="2.9" fill="#4E79A7"/>
<rect x="410.59" y="83.31" width="2.9" height="2.9" fill="#4E79A7"/>
<rect x="426.37" y="83.31" width="2.9" height="2.9" fill="#4E79A7"/>
<rect x="336.29" y="68" width="2.9" height="2.9" fill="#F28E2B"/>
<rect x="347.47" y="81.67" width="2.9" height="2.9" fill="#F28E2B"/>
<rect x="352.07" y="80.58" width="2.9" height="2.9" fill="#F28E2B"/>
<rect x="363.25" y="77.84" width="2.9" height="2.9" fill="#F28E2B"/>
<rect x="379.03" y="80.03" width="2.9" height="2.9" fill="#F28E2B"/>
<rect x="394.81" y="83.86" width="2.9" height="2.9" fill="#F28E2B"/>
<rect x="410.59" y="80.58" width="2.9" height="2.9" fill="#F28E2B"/>
<rect x="331.69" y="34.08" width="2.9" height="2.9" fill="#E15759"/>
<rect x="336.29" y="74.56" width="2.9" height="2.9" fill="#E15759"/>
<rect x="347.47" y="81.67" width="2.9" height="2.9" fill="#E15759"/>
<rect x="352.07" y="80.03" width="2.9" height="2.9" fill="#E15759"/>
<rect x="363.25" y="76.75" width="2.9" height="2.9" fill="#E15759"/>
<rect x="379.03" y="83.31" width="2.9" height="2.9" fill="#E15759"/>
<rect x="394.81" y="82.77" width="2.9" height="2.9" fill="#E15759"/>
<rect x="331.69" y="42.83" width="2.9" height="2.9" fill="#76B7B2"/>
<rect x="336.29" y="73.47" width="2.9" height="2.9" fill="#76B7B2"/>
<rect x="347.47" y="82.22" width="2.9" height="2.9" fill="#76B7B2"/>
<rect x="352.07" y="78.94" width="2.9" height="2.9" fill="#76B7B2"/>
<rect x="363.25" y="80.03" width="2.9" height="2.9" fill="#76B7B2"/>
<rect x="379.03" y="83.31" width="2.9" height="2.9" fill="#76B7B2"/>
<rect x="394.81" y="83.86" width="2.9" height="2.9" fill="#76B7B2"/>
<rect x="410.59" y="83.31" width="2.9" height="2.9" fill="#76B7B2"/>
</g>
<path d="M327.5 29.8H435.3V89.6" stroke="#484848" stroke-width="0.5" fill="none"/>
<path d="M327.5 29.8V89.6H435.3" stroke="#484848" stroke-width="0.8" fill="none" stroke-linecap="square"/>
<path d="M338.4 89.6V91.8" stroke="#333333" stroke-width="0.95" fill="none"/>
<text transform="translate(338.4 98.7) rotate(0.3) scale(0.955 1)" font-size="6.5" fill="#454545" stroke="#454545" stroke-width="0.14" text-anchor="middle">80</text>
<path d="M351.55 89.6V91.8" stroke="#333333" stroke-width="0.95" fill="none"/>
<text transform="translate(351.55 98.7) rotate(0.3) scale(0.955 1)" font-size="6.5" fill="#454545" stroke="#454545" stroke-width="0.14" text-anchor="middle">100</text>
<path d="M364.7 89.6V91.8" stroke="#333333" stroke-width="0.95" fill="none"/>
<text transform="translate(364.7 98.7) rotate(0.3) scale(0.955 1)" font-size="6.5" fill="#454545" stroke="#454545" stroke-width="0.14" text-anchor="middle">120</text>
<path d="M377.85 89.6V91.8" stroke="#333333" stroke-width="0.95" fill="none"/>
<text transform="translate(377.85 98.7) rotate(0.3) scale(0.955 1)" font-size="6.5" fill="#454545" stroke="#454545" stroke-width="0.14" text-anchor="middle">140</text>
<path d="M391 89.6V91.8" stroke="#333333" stroke-width="0.95" fill="none"/>
<text transform="translate(391 98.7) rotate(0.3) scale(0.955 1)" font-size="6.5" fill="#454545" stroke="#454545" stroke-width="0.14" text-anchor="middle">160</text>
<path d="M404.15 89.6V91.8" stroke="#333333" stroke-width="0.95" fill="none"/>
<text transform="translate(404.15 98.7) rotate(0.3) scale(0.955 1)" font-size="6.5" fill="#454545" stroke="#454545" stroke-width="0.14" text-anchor="middle">180</text>
<path d="M417.3 89.6V91.8" stroke="#333333" stroke-width="0.95" fill="none"/>
<text transform="translate(417.3 98.7) rotate(0.3) scale(0.955 1)" font-size="6.5" fill="#454545" stroke="#454545" stroke-width="0.14" text-anchor="middle">200</text>
<path d="M430.45 89.6V91.8" stroke="#333333" stroke-width="0.95" fill="none"/>
<text transform="translate(430.45 98.7) rotate(0.3) scale(0.955 1)" font-size="6.5" fill="#454545" stroke="#454545" stroke-width="0.14" text-anchor="middle">220</text>
<path d="M324.7 86.95H327.5" stroke="#333333" stroke-width="1.05" fill="none"/>
<text transform="translate(323 89.15) rotate(0.3) scale(0.955 1)" font-size="6.5" fill="#454545" stroke="#454545" stroke-width="0.14" text-anchor="end">0</text>
<path d="M324.7 76.01H327.5" stroke="#333333" stroke-width="1.05" fill="none"/>
<text transform="translate(323 78.21) rotate(0.3) scale(0.955 1)" font-size="6.5" fill="#454545" stroke="#454545" stroke-width="0.14" text-anchor="end">10</text>
<path d="M324.7 65.07H327.5" stroke="#333333" stroke-width="1.05" fill="none"/>
<text transform="translate(323 67.27) rotate(0.3) scale(0.955 1)" font-size="6.5" fill="#454545" stroke="#454545" stroke-width="0.14" text-anchor="end">20</text>
<path d="M324.7 54.13H327.5" stroke="#333333" stroke-width="1.05" fill="none"/>
<text transform="translate(323 56.33) rotate(0.3) scale(0.955 1)" font-size="6.5" fill="#454545" stroke="#454545" stroke-width="0.14" text-anchor="end">30</text>
<path d="M324.7 43.19H327.5" stroke="#333333" stroke-width="1.05" fill="none"/>
<text transform="translate(323 45.39) rotate(0.3) scale(0.955 1)" font-size="6.5" fill="#454545" stroke="#454545" stroke-width="0.14" text-anchor="end">40</text>
<path d="M324.7 32.25H327.5" stroke="#333333" stroke-width="1.05" fill="none"/>
<text transform="translate(323 34.45) rotate(0.3) scale(0.955 1)" font-size="6.5" fill="#454545" stroke="#454545" stroke-width="0.14" text-anchor="end">50</text>
<text transform="translate(155.7 214.2) rotate(0.3) scale(0.946 1)" font-size="6.45" fill="#000" stroke="#000" stroke-width="0.14">Assay</text>
<path d="M177.1 212H189.3" stroke="#4E79A7" stroke-width="1" fill="none"/>
<rect x="180.9" y="209.7" width="4.6" height="4.6" fill="#4E79A7"/>
<text transform="translate(193.8 214.2) rotate(0.3) scale(0.946 1)" font-size="6.45" fill="#000" stroke="#000" stroke-width="0.14">EPO</text>
<path d="M211.1 212H223.3" stroke="#F28E2B" stroke-width="1" fill="none"/>
<rect x="214.9" y="209.7" width="4.6" height="4.6" fill="#F28E2B"/>
<text transform="translate(228.4 214.2) rotate(0.3) scale(0.946 1)" font-size="6.45" fill="#000" stroke="#000" stroke-width="0.14">GFP</text>
<path d="M245.9 212H257.6" stroke="#E15759" stroke-width="1" fill="none"/>
<rect x="249.45" y="209.7" width="4.6" height="4.6" fill="#E15759"/>
<text transform="translate(262.2 214.2) rotate(0.3) scale(0.946 1)" font-size="6.45" fill="#000" stroke="#000" stroke-width="0.14">TNC</text>
<path d="M279.9 212H291.7" stroke="#76B7B2" stroke-width="1" fill="none"/>
<rect x="283.5" y="209.7" width="4.6" height="4.6" fill="#76B7B2"/>
<text transform="translate(296.2 214.2) rotate(0.3) scale(0.946 1)" font-size="6.45" fill="#000" stroke="#000" stroke-width="0.14">VEGFA</text>
<text transform="translate(2.6 233.5) rotate(0.3)" font-size="14" fill="#000">B</text>
<text transform="translate(5.4 327.1) rotate(-89.7) scale(0.946 1)" font-size="6.45" fill="#000" stroke="#000" stroke-width="0.22" text-anchor="middle" font-weight="bold">Sequence counts</text>
<clipPath id="c5"><rect x="30.6" y="240.2" width="202.1" height="173.3"/></clipPath>
<rect x="30.6" y="240.2" width="202.1" height="173.3" fill="#fff"/>
<g clip-path="url(#c5)">
<path d="M30.6 389.98H232.7" stroke="#E9E9E9" stroke-width="0.5" fill="none"/>
<path d="M30.6 357.34H232.7" stroke="#E9E9E9" stroke-width="0.5" fill="none"/>
<path d="M30.6 324.7H232.7" stroke="#E9E9E9" stroke-width="0.5" fill="none"/>
<path d="M30.6 292.06H232.7" stroke="#E9E9E9" stroke-width="0.5" fill="none"/>
<path d="M30.6 259.42H232.7" stroke="#E9E9E9" stroke-width="0.5" fill="none"/>
<path d="M52.42 240.2V413.5" stroke="#E9E9E9" stroke-width="0.5" fill="none"/>
<path d="M78.06 240.2V413.5" stroke="#E9E9E9" stroke-width="0.5" fill="none"/>
<path d="M103.7 240.2V413.5" stroke="#E9E9E9" stroke-width="0.5" fill="none"/>
<path d="M129.34 240.2V413.5" stroke="#E9E9E9" stroke-width="0.5" fill="none"/>
<path d="M154.98 240.2V413.5" stroke="#E9E9E9" stroke-width="0.5" fill="none"/>
<path d="M180.62 240.2V413.5" stroke="#E9E9E9" stroke-width="0.5" fill="none"/>
<path d="M206.26 240.2V413.5" stroke="#E9E9E9" stroke-width="0.5" fill="none"/>
<path d="M231.9 240.2V413.5" stroke="#E9E9E9" stroke-width="0.5" fill="none"/>
<path d="M30.6 406.3H232.7" stroke="#E9E9E9" stroke-width="0.95" fill="none"/>
<path d="M30.6 373.66H232.7" stroke="#E9E9E9" stroke-width="0.95" fill="none"/>
<path d="M30.6 341.02H232.7" stroke="#E9E9E9" stroke-width="0.95" fill="none"/>
<path d="M30.6 308.38H232.7" stroke="#E9E9E9" stroke-width="0.95" fill="none"/>
<path d="M30.6 275.74H232.7" stroke="#E9E9E9" stroke-width="0.95" fill="none"/>
<path d="M30.6 243.1H232.7" stroke="#E9E9E9" stroke-width="0.95" fill="none"/>
<path d="M39.6 240.2V413.5" stroke="#E9E9E9" stroke-width="0.95" fill="none"/>
<path d="M65.24 240.2V413.5" stroke="#E9E9E9" stroke-width="0.95" fill="none"/>
<path d="M90.88 240.2V413.5" stroke="#E9E9E9" stroke-width="0.95" fill="none"/>
<path d="M116.52 240.2V413.5" stroke="#E9E9E9" stroke-width="0.95" fill="none"/>
<path d="M142.16 240.2V413.5" stroke="#E9E9E9" stroke-width="0.95" fill="none"/>
<path d="M167.8 240.2V413.5" stroke="#E9E9E9" stroke-width="0.95" fill="none"/>
<path d="M193.44 240.2V413.5" stroke="#E9E9E9" stroke-width="0.95" fill="none"/>
<path d="M219.08 240.2V413.5" stroke="#E9E9E9" stroke-width="0.95" fill="none"/>
<path d="M39.6 276.13L40.24 283.09L40.88 286.84L42.16 288.8L43.45 288.56L47.29 277.31L49.86 278.09L54.98 292.06L70.37 273.78L74.21 267.12L79.34 278.77L101.14 296.92L110.11 292.97L131.9 379.46L140.88 393.11L162.67 399.64" stroke="#4E79A7" stroke-width="1.15" fill="none" stroke-linejoin="round"/>
<path d="M39.6 269.09L40.24 287.49L40.88 292.97L42.16 284.23L43.45 280.75L47.29 279L49.86 281.92L54.98 292.77L70.37 273.78L74.21 275.09L79.34 277.53L101.14 287.97L110.11 293.69L131.9 378.23L140.88 388.15L162.67 396.35" stroke="#F28E2B" stroke-width="1.15" fill="none" stroke-linejoin="round"/>
<path d="M39.6 290.66L40.24 303.25L40.88 311.64L42.16 303.16L43.45 302.9L47.29 297.94L49.86 298.24L54.98 309.09L70.37 294.93L74.21 293.69L79.34 295.68L101.14 303.16L110.11 303.16L131.9 375.23L140.88 394.16L162.67 398.99" stroke="#E15759" stroke-width="1.15" fill="none" stroke-linejoin="round"/>
<path d="M39.6 362.65L40.24 297.41L40.88 275.74L42.16 256.86L43.45 256.42L47.29 256.03L49.86 269.09L54.98 273.39L70.37 281.26L74.21 297.41L79.34 316.06L101.14 367.52L110.11 372.99L131.9 400.29L140.88 401.08L162.67 403.82" stroke="#76B7B2" stroke-width="1.15" fill="none" stroke-linejoin="round"/>
<path d="M39.6 406.3L40.24 326.01L40.88 279L42.16 263.27L43.45 267.91L47.29 262.45L49.86 263.6L54.98 278.09L70.37 262.62L74.21 268.04L79.34 282.53L101.14 345.15L110.11 345.64L131.9 396.64L140.88 397.81L162.67 403.3" stroke="#59A14F" stroke-width="1.15" fill="none" stroke-linejoin="round"/>
<rect x="37.25" y="273.78" width="4.7" height="4.7" fill="#4E79A7"/>
<rect x="37.89" y="280.74" width="4.7" height="4.7" fill="#4E79A7"/>
<rect x="38.53" y="284.49" width="4.7" height="4.7" fill="#4E79A7"/>
<rect x="39.81" y="286.45" width="4.7" height="4.7" fill="#4E79A7"/>
<rect x="41.1" y="286.21" width="4.7" height="4.7" fill="#4E79A7"/>
<rect x="44.94" y="274.96" width="4.7" height="4.7" fill="#4E79A7"/>
<rect x="47.51" y="275.74" width="4.7" height="4.7" fill="#4E79A7"/>
<rect x="52.63" y="289.71" width="4.7" height="4.7" fill="#4E79A7"/>
<rect x="68.02" y="271.43" width="4.7" height="4.7" fill="#4E79A7"/>
<rect x="71.86" y="264.77" width="4.7" height="4.7" fill="#4E79A7"/>
<rect x="76.99" y="276.42" width="4.7" height="4.7" fill="#4E79A7"/>
<rect x="98.79" y="294.57" width="4.7" height="4.7" fill="#4E79A7"/>
<rect x="107.76" y="290.62" width="4.7" height="4.7" fill="#4E79A7"/>
<rect x="129.55" y="377.11" width="4.7" height="4.7" fill="#4E79A7"/>
<rect x="138.53" y="390.76" width="4.7" height="4.7" fill="#4E79A7"/>
<rect x="160.32" y="397.29" width="4.7" height="4.7" fill="#4E79A7"/>
<rect x="37.25" y="266.74" width="4.7" height="4.7" fill="#F28E2B"/>
<rect x="37.89" y="285.14" width="4.7" height="4.7" fill="#F28E2B"/>
<rect x="38.53" y="290.62" width="4.7" height="4.7" fill="#F28E2B"/>
<rect x="39.81" y="281.88" width="4.7" height="4.7" fill="#F28E2B"/>
<rect x="41.1" y="278.4" width="4.7" height="4.7" fill="#F28E2B"/>
<rect x="44.94" y="276.65" width="4.7" height="4.7" fill="#F28E2B"/>
<rect x="47.51" y="279.57" width="4.7" height="4.7" fill="#F28E2B"/>
<rect x="52.63" y="290.42" width="4.7" height="4.7" fill="#F28E2B"/>
<rect x="68.02" y="271.43" width="4.7" height="4.7" fill="#F28E2B"/>
<rect x="71.86" y="272.74" width="4.7" height="4.7" fill="#F28E2B"/>
<rect x="76.99" y="275.18" width="4.7" height="4.7" fill="#F28E2B"/>
<rect x="98.79" y="285.62" width="4.7" height="4.7" fill="#F28E2B"/>
<rect x="107.76" y="291.34" width="4.7" height="4.7" fill="#F28E2B"/>
<rect x="129.55" y="375.88" width="4.7" height="4.7" fill="#F28E2B"/>
<rect x="138.53" y="385.8" width="4.7" height="4.7" fill="#F28E2B"/>
<rect x="160.32" y="394" width="4.7" height="4.7" fill="#F28E2B"/>
<rect x="37.25" y="288.31" width="4.7" height="4.7" fill="#E15759"/>
<rect x="37.89" y="300.9" width="4.7" height="4.7" fill="#E15759"/>
<rect x="38.53" y="309.29" width="4.7" height="4.7" fill="#E15759"/>
<rect x="39.81" y="300.81" width="4.7" height="4.7" fill="#E15759"/>
<rect x="41.1" y="300.55" width="4.7" height="4.7" fill="#E15759"/>
<rect x="44.94" y="295.59" width="4.7" height="4.7" fill="#E15759"/>
<rect x="47.51" y="295.89" width="4.7" height="4.7" fill="#E15759"/>
<rect x="52.63" y="306.74" width="4.7" height="4.7" fill="#E15759"/>
<rect x="68.02" y="292.58" width="4.7" height="4.7" fill="#E15759"/>
<rect x="71.86" y="291.34" width="4.7" height="4.7" fill="#E15759"/>
<rect x="76.99" y="293.33" width="4.7" height="4.7" fill="#E15759"/>
<rect x="98.79" y="300.81" width="4.7" height="4.7" fill="#E15759"/>
<rect x="107.76" y="300.81" width="4.7" height="4.7" fill="#E15759"/>
<rect x="129.55" y="372.88" width="4.7" height="4.7" fill="#E15759"/>
<rect x="138.53" y="391.81" width="4.7" height="4.7" fill="#E15759"/>
<rect x="160.32" y="396.64" width="4.7" height="4.7" fill="#E15759"/>
<rect x="37.25" y="360.3" width="4.7" height="4.7" fill="#76B7B2"/>
<rect x="37.89" y="295.06" width="4.7" height="4.7" fill="#76B7B2"/>
<rect x="38.53" y="273.39" width="4.7" height="4.7" fill="#76B7B2"/>
<rect x="39.81" y="254.51" width="4.7" height="4.7" fill="#76B7B2"/>
<rect x="41.1" y="254.07" width="4.7" height="4.7" fill="#76B7B2"/>
<rect x="44.94" y="253.68" width="4.7" height="4.7" fill="#76B7B2"/>
<rect x="47.51" y="266.74" width="4.7" height="4.7" fill="#76B7B2"/>
<rect x="52.63" y="271.04" width="4.7" height="4.7" fill="#76B7B2"/>
<rect x="68.02" y="278.91" width="4.7" height="4.7" fill="#76B7B2"/>
<rect x="71.86" y="295.06" width="4.7" height="4.7" fill="#76B7B2"/>
<rect x="76.99" y="313.71" width="4.7" height="4.7" fill="#76B7B2"/>
<rect x="98.79" y="365.17" width="4.7" height="4.7" fill="#76B7B2"/>
<rect x="107.76" y="370.64" width="4.7" height="4.7" fill="#76B7B2"/>
<rect x="129.55" y="397.94" width="4.7" height="4.7" fill="#76B7B2"/>
<rect x="138.53" y="398.73" width="4.7" height="4.7" fill="#76B7B2"/>
<rect x="160.32" y="401.47" width="4.7" height="4.7" fill="#76B7B2"/>
<rect x="37.25" y="403.95" width="4.7" height="4.7" fill="#59A14F"/>
<rect x="37.89" y="323.66" width="4.7" height="4.7" fill="#59A14F"/>
<rect x="38.53" y="276.65" width="4.7" height="4.7" fill="#59A14F"/>
<rect x="39.81" y="260.92" width="4.7" height="4.7" fill="#59A14F"/>
<rect x="41.1" y="265.56" width="4.7" height="4.7" fill="#59A14F"/>
<rect x="44.94" y="260.1" width="4.7" height="4.7" fill="#59A14F"/>
<rect x="47.51" y="261.25" width="4.7" height="4.7" fill="#59A14F"/>
<rect x="52.63" y="275.74" width="4.7" height="4.7" fill="#59A14F"/>
<rect x="68.02" y="260.27" width="4.7" height="4.7" fill="#59A14F"/>
<rect x="71.86" y="265.69" width="4.7" height="4.7" fill="#59A14F"/>
<rect x="76.99" y="280.18" width="4.7" height="4.7" fill="#59A14F"/>
<rect x="98.79" y="342.8" width="4.7" height="4.7" fill="#59A14F"/>
<rect x="107.76" y="343.29" width="4.7" height="4.7" fill="#59A14F"/>
<rect x="129.55" y="394.29" width="4.7" height="4.7" fill="#59A14F"/>
<rect x="138.53" y="395.46" width="4.7" height="4.7" fill="#59A14F"/>
<rect x="160.32" y="400.95" width="4.7" height="4.7" fill="#59A14F"/>
</g>
<rect x="30.6" y="240.2" width="202.1" height="173.3" fill="none" stroke="#484848" stroke-width="0.85"/>
<rect x="30.6" y="226.9" width="202.1" height="13.3" fill="#D9D9D9"/>
<path d="M30.6 226.7V240.2" stroke="#484848" stroke-width="0.85" fill="none"/>
<path d="M232.7 226.7V240.2" stroke="#484848" stroke-width="0.85" fill="none"/>
<path d="M30.18 226.9H233.12" stroke="#484848" stroke-width="0.4" fill="none"/>
<path d="M30.18 240.2H233.12" stroke="#555555" stroke-width="1" fill="none"/>
<text transform="translate(131.65 235.75) rotate(0.3) scale(0.946 1)" font-size="6.45" fill="#1A1A1A" stroke="#1A1A1A" stroke-width="0.14" text-anchor="middle">H1</text>
<path d="M39.6 413.5V416.1" stroke="#333333" stroke-width="1" fill="none"/>
<text transform="translate(39.6 422.8) rotate(0.3) scale(0.945 1)" font-size="6.6" fill="#454545" stroke="#454545" stroke-width="0.14" text-anchor="middle">0</text>
<path d="M65.24 413.5V416.1" stroke="#333333" stroke-width="1" fill="none"/>
<text transform="translate(65.24 422.8) rotate(0.3) scale(0.945 1)" font-size="6.6" fill="#454545" stroke="#454545" stroke-width="0.14" text-anchor="middle">20</text>
<path d="M90.88 413.5V416.1" stroke="#333333" stroke-width="1" fill="none"/>
<text transform="translate(90.88 422.8) rotate(0.3) scale(0.945 1)" font-size="6.6" fill="#454545" stroke="#454545" stroke-width="0.14" text-anchor="middle">40</text>
<path d="M116.52 413.5V416.1" stroke="#333333" stroke-width="1" fill="none"/>
<text transform="translate(116.52 422.8) rotate(0.3) scale(0.945 1)" font-size="6.6" fill="#454545" stroke="#454545" stroke-width="0.14" text-anchor="middle">60</text>
<path d="M142.16 413.5V416.1" stroke="#333333" stroke-width="1" fill="none"/>
<text transform="translate(142.16 422.8) rotate(0.3) scale(0.945 1)" font-size="6.6" fill="#454545" stroke="#454545" stroke-width="0.14" text-anchor="middle">80</text>
<path d="M167.8 413.5V416.1" stroke="#333333" stroke-width="1" fill="none"/>
<text transform="translate(167.8 422.8) rotate(0.3) scale(0.945 1)" font-size="6.6" fill="#454545" stroke="#454545" stroke-width="0.14" text-anchor="middle">100</text>
<path d="M193.44 413.5V416.1" stroke="#333333" stroke-width="1" fill="none"/>
<text transform="translate(193.44 422.8) rotate(0.3) scale(0.945 1)" font-size="6.6" fill="#454545" stroke="#454545" stroke-width="0.14" text-anchor="middle">120</text>
<path d="M219.08 413.5V416.1" stroke="#333333" stroke-width="1" fill="none"/>
<text transform="translate(219.08 422.8) rotate(0.3) scale(0.945 1)" font-size="6.6" fill="#454545" stroke="#454545" stroke-width="0.14" text-anchor="middle">140</text>
<path d="M27.7 406.3H30.6" stroke="#333333" stroke-width="1.05" fill="none"/>
<text transform="translate(26.3 408.6) rotate(0.3) scale(0.945 1)" font-size="6.6" fill="#454545" stroke="#454545" stroke-width="0.14" text-anchor="end">0</text>
<path d="M27.7 373.66H30.6" stroke="#333333" stroke-width="1.05" fill="none"/>
<text transform="translate(26.3 375.96) rotate(0.3) scale(0.945 1)" font-size="6.6" fill="#454545" stroke="#454545" stroke-width="0.14" text-anchor="end">2500</text>
<path d="M27.7 341.02H30.6" stroke="#333333" stroke-width="1.05" fill="none"/>
<text transform="translate(26.3 343.32) rotate(0.3) scale(0.945 1)" font-size="6.6" fill="#454545" stroke="#454545" stroke-width="0.14" text-anchor="end">5000</text>
<path d="M27.7 308.38H30.6" stroke="#333333" stroke-width="1.05" fill="none"/>
<text transform="translate(26.3 310.68) rotate(0.3) scale(0.945 1)" font-size="6.6" fill="#454545" stroke="#454545" stroke-width="0.14" text-anchor="end">7500</text>
<path d="M27.7 275.74H30.6" stroke="#333333" stroke-width="1.05" fill="none"/>
<text transform="translate(26.3 278.04) rotate(0.3) scale(0.945 1)" font-size="6.6" fill="#454545" stroke="#454545" stroke-width="0.14" text-anchor="end">10000</text>
<path d="M27.7 243.1H30.6" stroke="#333333" stroke-width="1.05" fill="none"/>
<text transform="translate(26.3 245.4) rotate(0.3) scale(0.945 1)" font-size="6.6" fill="#454545" stroke="#454545" stroke-width="0.14" text-anchor="end">12500</text>
<clipPath id="c6"><rect x="238.4" y="240.2" width="202.5" height="173.3"/></clipPath>
<rect x="238.4" y="240.2" width="202.5" height="173.3" fill="#fff"/>
<g clip-path="url(#c6)">
<path d="M238.4 389.98H440.9" stroke="#E9E9E9" stroke-width="0.5" fill="none"/>
<path d="M238.4 357.34H440.9" stroke="#E9E9E9" stroke-width="0.5" fill="none"/>
<path d="M238.4 324.7H440.9" stroke="#E9E9E9" stroke-width="0.5" fill="none"/>
<path d="M238.4 292.06H440.9" stroke="#E9E9E9" stroke-width="0.5" fill="none"/>
<path d="M238.4 259.42H440.9" stroke="#E9E9E9" stroke-width="0.5" fill="none"/>
<path d="M260.22 240.2V413.5" stroke="#E9E9E9" stroke-width="0.5" fill="none"/>
<path d="M285.86 240.2V413.5" stroke="#E9E9E9" stroke-width="0.5" fill="none"/>
<path d="M311.5 240.2V413.5" stroke="#E9E9E9" stroke-width="0.5" fill="none"/>
<path d="M337.14 240.2V413.5" stroke="#E9E9E9" stroke-width="0.5" fill="none"/>
<path d="M362.78 240.2V413.5" stroke="#E9E9E9" stroke-width="0.5" fill="none"/>
<path d="M388.42 240.2V413.5" stroke="#E9E9E9" stroke-width="0.5" fill="none"/>
<path d="M414.06 240.2V413.5" stroke="#E9E9E9" stroke-width="0.5" fill="none"/>
<path d="M439.7 240.2V413.5" stroke="#E9E9E9" stroke-width="0.5" fill="none"/>
<path d="M238.4 406.3H440.9" stroke="#E9E9E9" stroke-width="0.95" fill="none"/>
<path d="M238.4 373.66H440.9" stroke="#E9E9E9" stroke-width="0.95" fill="none"/>
<path d="M238.4 341.02H440.9" stroke="#E9E9E9" stroke-width="0.95" fill="none"/>
<path d="M238.4 308.38H440.9" stroke="#E9E9E9" stroke-width="0.95" fill="none"/>
<path d="M238.4 275.74H440.9" stroke="#E9E9E9" stroke-width="0.95" fill="none"/>
<path d="M238.4 243.1H440.9" stroke="#E9E9E9" stroke-width="0.95" fill="none"/>
<path d="M247.4 240.2V413.5" stroke="#E9E9E9" stroke-width="0.95" fill="none"/>
<path d="M273.04 240.2V413.5" stroke="#E9E9E9" stroke-width="0.95" fill="none"/>
<path d="M298.68 240.2V413.5" stroke="#E9E9E9" stroke-width="0.95" fill="none"/>
<path d="M324.32 240.2V413.5" stroke="#E9E9E9" stroke-width="0.95" fill="none"/>
<path d="M349.96 240.2V413.5" stroke="#E9E9E9" stroke-width="0.95" fill="none"/>
<path d="M375.6 240.2V413.5" stroke="#E9E9E9" stroke-width="0.95" fill="none"/>
<path d="M401.24 240.2V413.5" stroke="#E9E9E9" stroke-width="0.95" fill="none"/>
<path d="M426.88 240.2V413.5" stroke="#E9E9E9" stroke-width="0.95" fill="none"/>
<path d="M247.4 284.88L248.04 288.8L248.68 285.21L249.96 285.21L251.25 285.21L255.09 266.6L257.66 257.98L262.78 266.6L278.17 262.68L282.01 262.23L287.14 263.47L308.94 248.06L317.91 248.58L339.7 339.71L348.68 384.76L370.47 396.57L379.45 395.2L401.24 397.75L432.01 399.38L493.54 401.86" stroke="#4E79A7" stroke-width="1.15" fill="none" stroke-linejoin="round"/>
<path d="M247.4 260.2L248.04 280.96L248.68 283.9L249.96 283.57L251.25 278.61L255.09 266.99L257.66 265.3L262.78 271.69L278.17 267.91L282.01 269.02L287.14 261.9L308.94 263.79L317.91 271.69L339.7 338.59L348.68 373.66L379.45 386.06L401.24 396.83L432.01 393.51L493.54 399.77" stroke="#F28E2B" stroke-width="1.15" fill="none" stroke-linejoin="round"/>
<path d="M247.4 292.71L248.04 303.68L248.68 295.32L249.96 302.5L251.25 301L255.09 286.45L257.66 283.25L262.78 289.58L278.17 286.89L282.01 287.67L287.14 284.88L308.94 275.09L317.91 278.48L339.7 341.74L348.68 375.62L370.47 398.47L379.45 387.63L401.24 399.64L432.01 399.38" stroke="#E15759" stroke-width="1.15" fill="none" stroke-linejoin="round"/>
<path d="M247.4 404.34L248.04 288.8L248.68 276L249.96 271.82L251.25 271.56L255.09 263.21L257.66 258.77L262.78 266.34L278.17 266.6L282.01 282.46L287.14 283.57L308.94 340.17L317.91 340.95L339.7 395.86L348.68 399.25L370.47 400.03L379.45 401.14" stroke="#76B7B2" stroke-width="1.15" fill="none" stroke-linejoin="round"/>
<path d="M247.4 405.65L248.04 276L248.68 292.71L249.96 292.06L251.25 290.49L255.09 269.86L257.66 265.82L262.78 274.83L278.17 271.43L282.01 272.21L287.14 275.35L308.94 299.24L317.91 300.55L339.7 382.15L348.68 399.25L370.47 399.77L379.45 400.82L401.24 402.19L432.01 403.56" stroke="#59A14F" stroke-width="1.15" fill="none" stroke-linejoin="round"/>
<rect x="245.05" y="282.53" width="4.7" height="4.7" fill="#4E79A7"/>
<rect x="245.69" y="286.45" width="4.7" height="4.7" fill="#4E79A7"/>
<rect x="246.33" y="282.86" width="4.7" height="4.7" fill="#4E79A7"/>
<rect x="247.61" y="282.86" width="4.7" height="4.7" fill="#4E79A7"/>
<rect x="248.9" y="282.86" width="4.7" height="4.7" fill="#4E79A7"/>
<rect x="252.74" y="264.25" width="4.7" height="4.7" fill="#4E79A7"/>
<rect x="255.31" y="255.63" width="4.7" height="4.7" fill="#4E79A7"/>
<rect x="260.43" y="264.25" width="4.7" height="4.7" fill="#4E79A7"/>
<rect x="275.82" y="260.33" width="4.7" height="4.7" fill="#4E79A7"/>
<rect x="279.66" y="259.88" width="4.7" height="4.7" fill="#4E79A7"/>
<rect x="284.79" y="261.12" width="4.7" height="4.7" fill="#4E79A7"/>
<rect x="306.59" y="245.71" width="4.7" height="4.7" fill="#4E79A7"/>
<rect x="315.56" y="246.23" width="4.7" height="4.7" fill="#4E79A7"/>
<rect x="337.35" y="337.36" width="4.7" height="4.7" fill="#4E79A7"/>
<rect x="346.33" y="382.41" width="4.7" height="4.7" fill="#4E79A7"/>
<rect x="368.12" y="394.22" width="4.7" height="4.7" fill="#4E79A7"/>
<rect x="377.1" y="392.85" width="4.7" height="4.7" fill="#4E79A7"/>
<rect x="398.89" y="395.4" width="4.7" height="4.7" fill="#4E79A7"/>
<rect x="429.66" y="397.03" width="4.7" height="4.7" fill="#4E79A7"/>
<rect x="245.05" y="257.85" width="4.7" height="4.7" fill="#F28E2B"/>
<rect x="245.69" y="278.61" width="4.7" height="4.7" fill="#F28E2B"/>
<rect x="246.33" y="281.55" width="4.7" height="4.7" fill="#F28E2B"/>
<rect x="247.61" y="281.22" width="4.7" height="4.7" fill="#F28E2B"/>
<rect x="248.9" y="276.26" width="4.7" height="4.7" fill="#F28E2B"/>
<rect x="252.74" y="264.64" width="4.7" height="4.7" fill="#F28E2B"/>
<rect x="255.31" y="262.95" width="4.7" height="4.7" fill="#F28E2B"/>
<rect x="260.43" y="269.34" width="4.7" height="4.7" fill="#F28E2B"/>
<rect x="275.82" y="265.56" width="4.7" height="4.7" fill="#F28E2B"/>
<rect x="279.66" y="266.67" width="4.7" height="4.7" fill="#F28E2B"/>
<rect x="284.79" y="259.55" width="4.7" height="4.7" fill="#F28E2B"/>
<rect x="306.59" y="261.44" width="4.7" height="4.7" fill="#F28E2B"/>
<rect x="315.56" y="269.34" width="4.7" height="4.7" fill="#F28E2B"/>
<rect x="337.35" y="336.24" width="4.7" height="4.7" fill="#F28E2B"/>
<rect x="346.33" y="371.31" width="4.7" height="4.7" fill="#F28E2B"/>
<rect x="377.1" y="383.71" width="4.7" height="4.7" fill="#F28E2B"/>
<rect x="398.89" y="394.48" width="4.7" height="4.7" fill="#F28E2B"/>
<rect x="429.66" y="391.16" width="4.7" height="4.7" fill="#F28E2B"/>
<rect x="245.05" y="290.36" width="4.7" height="4.7" fill="#E15759"/>
<rect x="245.69" y="301.33" width="4.7" height="4.7" fill="#E15759"/>
<rect x="246.33" y="292.97" width="4.7" height="4.7" fill="#E15759"/>
<rect x="247.61" y="300.15" width="4.7" height="4.7" fill="#E15759"/>
<rect x="248.9" y="298.65" width="4.7" height="4.7" fill="#E15759"/>
<rect x="252.74" y="284.1" width="4.7" height="4.7" fill="#E15759"/>
<rect x="255.31" y="280.9" width="4.7" height="4.7" fill="#E15759"/>
<rect x="260.43" y="287.23" width="4.7" height="4.7" fill="#E15759"/>
<rect x="275.82" y="284.54" width="4.7" height="4.7" fill="#E15759"/>
<rect x="279.66" y="285.32" width="4.7" height="4.7" fill="#E15759"/>
<rect x="284.79" y="282.53" width="4.7" height="4.7" fill="#E15759"/>
<rect x="306.59" y="272.74" width="4.7" height="4.7" fill="#E15759"/>
<rect x="315.56" y="276.13" width="4.7" height="4.7" fill="#E15759"/>
<rect x="337.35" y="339.39" width="4.7" height="4.7" fill="#E15759"/>
<rect x="346.33" y="373.27" width="4.7" height="4.7" fill="#E15759"/>
<rect x="368.12" y="396.12" width="4.7" height="4.7" fill="#E15759"/>
<rect x="377.1" y="385.28" width="4.7" height="4.7" fill="#E15759"/>
<rect x="398.89" y="397.29" width="4.7" height="4.7" fill="#E15759"/>
<rect x="429.66" y="397.03" width="4.7" height="4.7" fill="#E15759"/>
<rect x="245.05" y="401.99" width="4.7" height="4.7" fill="#76B7B2"/>
<rect x="245.69" y="286.45" width="4.7" height="4.7" fill="#76B7B2"/>
<rect x="246.33" y="273.65" width="4.7" height="4.7" fill="#76B7B2"/>
<rect x="247.61" y="269.47" width="4.7" height="4.7" fill="#76B7B2"/>
<rect x="248.9" y="269.21" width="4.7" height="4.7" fill="#76B7B2"/>
<rect x="252.74" y="260.86" width="4.7" height="4.7" fill="#76B7B2"/>
<rect x="255.31" y="256.42" width="4.7" height="4.7" fill="#76B7B2"/>
<rect x="260.43" y="263.99" width="4.7" height="4.7" fill="#76B7B2"/>
<rect x="275.82" y="264.25" width="4.7" height="4.7" fill="#76B7B2"/>
<rect x="279.66" y="280.11" width="4.7" height="4.7" fill="#76B7B2"/>
<rect x="284.79" y="281.22" width="4.7" height="4.7" fill="#76B7B2"/>
<rect x="306.59" y="337.82" width="4.7" height="4.7" fill="#76B7B2"/>
<rect x="315.56" y="338.6" width="4.7" height="4.7" fill="#76B7B2"/>
<rect x="337.35" y="393.51" width="4.7" height="4.7" fill="#76B7B2"/>
<rect x="346.33" y="396.9" width="4.7" height="4.7" fill="#76B7B2"/>
<rect x="368.12" y="397.68" width="4.7" height="4.7" fill="#76B7B2"/>
<rect x="377.1" y="398.79" width="4.7" height="4.7" fill="#76B7B2"/>
<rect x="245.05" y="403.3" width="4.7" height="4.7" fill="#59A14F"/>
<rect x="245.69" y="273.65" width="4.7" height="4.7" fill="#59A14F"/>
<rect x="246.33" y="290.36" width="4.7" height="4.7" fill="#59A14F"/>
<rect x="247.61" y="289.71" width="4.7" height="4.7" fill="#59A14F"/>
<rect x="248.9" y="288.14" width="4.7" height="4.7" fill="#59A14F"/>
<rect x="252.74" y="267.51" width="4.7" height="4.7" fill="#59A14F"/>
<rect x="255.31" y="263.47" width="4.7" height="4.7" fill="#59A14F"/>
<rect x="260.43" y="272.48" width="4.7" height="4.7" fill="#59A14F"/>
<rect x="275.82" y="269.08" width="4.7" height="4.7" fill="#59A14F"/>
<rect x="279.66" y="269.86" width="4.7" height="4.7" fill="#59A14F"/>
<rect x="284.79" y="273" width="4.7" height="4.7" fill="#59A14F"/>
<rect x="306.59" y="296.89" width="4.7" height="4.7" fill="#59A14F"/>
<rect x="315.56" y="298.2" width="4.7" height="4.7" fill="#59A14F"/>
<rect x="337.35" y="379.8" width="4.7" height="4.7" fill="#59A14F"/>
<rect x="346.33" y="396.9" width="4.7" height="4.7" fill="#59A14F"/>
<rect x="368.12" y="397.42" width="4.7" height="4.7" fill="#59A14F"/>
<rect x="377.1" y="398.47" width="4.7" height="4.7" fill="#59A14F"/>
<rect x="398.89" y="399.84" width="4.7" height="4.7" fill="#59A14F"/>
<rect x="429.66" y="401.21" width="4.7" height="4.7" fill="#59A14F"/>
</g>
<rect x="238.4" y="240.2" width="202.5" height="173.3" fill="none" stroke="#484848" stroke-width="0.85"/>
<rect x="238.4" y="226.9" width="202.5" height="13.3" fill="#D9D9D9"/>
<path d="M238.4 226.7V240.2" stroke="#484848" stroke-width="0.85" fill="none"/>
<path d="M440.9 226.7V240.2" stroke="#484848" stroke-width="0.85" fill="none"/>
<path d="M237.98 226.9H441.32" stroke="#484848" stroke-width="0.4" fill="none"/>
<path d="M237.98 240.2H441.32" stroke="#555555" stroke-width="1" fill="none"/>
<text transform="translate(339.65 235.75) rotate(0.3) scale(0.946 1)" font-size="6.45" fill="#1A1A1A" stroke="#1A1A1A" stroke-width="0.14" text-anchor="middle">H2</text>
<path d="M247.4 413.5V416.1" stroke="#333333" stroke-width="1" fill="none"/>
<text transform="translate(247.4 422.8) rotate(0.3) scale(0.945 1)" font-size="6.6" fill="#454545" stroke="#454545" stroke-width="0.14" text-anchor="middle">0</text>
<path d="M273.04 413.5V416.1" stroke="#333333" stroke-width="1" fill="none"/>
<text transform="translate(273.04 422.8) rotate(0.3) scale(0.945 1)" font-size="6.6" fill="#454545" stroke="#454545" stroke-width="0.14" text-anchor="middle">20</text>
<path d="M298.68 413.5V416.1" stroke="#333333" stroke-width="1" fill="none"/>
<text transform="translate(298.68 422.8) rotate(0.3) scale(0.945 1)" font-size="6.6" fill="#454545" stroke="#454545" stroke-width="0.14" text-anchor="middle">40</text>
<path d="M324.32 413.5V416.1" stroke="#333333" stroke-width="1" fill="none"/>
<text transform="translate(324.32 422.8) rotate(0.3) scale(0.945 1)" font-size="6.6" fill="#454545" stroke="#454545" stroke-width="0.14" text-anchor="middle">60</text>
<path d="M349.96 413.5V416.1" stroke="#333333" stroke-width="1" fill="none"/>
<text transform="translate(349.96 422.8) rotate(0.3) scale(0.945 1)" font-size="6.6" fill="#454545" stroke="#454545" stroke-width="0.14" text-anchor="middle">80</text>
<path d="M375.6 413.5V416.1" stroke="#333333" stroke-width="1" fill="none"/>
<text transform="translate(375.6 422.8) rotate(0.3) scale(0.945 1)" font-size="6.6" fill="#454545" stroke="#454545" stroke-width="0.14" text-anchor="middle">100</text>
<path d="M401.24 413.5V416.1" stroke="#333333" stroke-width="1" fill="none"/>
<text transform="translate(401.24 422.8) rotate(0.3) scale(0.945 1)" font-size="6.6" fill="#454545" stroke="#454545" stroke-width="0.14" text-anchor="middle">120</text>
<path d="M426.88 413.5V416.1" stroke="#333333" stroke-width="1" fill="none"/>
<text transform="translate(426.88 422.8) rotate(0.3) scale(0.945 1)" font-size="6.6" fill="#454545" stroke="#454545" stroke-width="0.14" text-anchor="middle">140</text>
<text transform="translate(236 431.5) rotate(0.3) scale(0.946 1)" font-size="6.45" fill="#000" stroke="#000" stroke-width="0.22" text-anchor="middle" font-weight="bold">Hrs post-admin</text>
<clipPath id="c7"><rect x="145.8" y="246.2" width="79" height="63"/></clipPath>
<rect x="145.8" y="246.2" width="79" height="63" fill="#fff"/>
<g clip-path="url(#c7)">
<path d="M145.8 297.02H224.8" stroke="#E9E9E9" stroke-width="0.45" fill="none"/>
<path d="M145.8 277.65H224.8" stroke="#E9E9E9" stroke-width="0.45" fill="none"/>
<path d="M145.8 258.28H224.8" stroke="#E9E9E9" stroke-width="0.45" fill="none"/>
<path d="M148.93 246.2V309.2" stroke="#E9E9E9" stroke-width="0.45" fill="none"/>
<path d="M160.07 246.2V309.2" stroke="#E9E9E9" stroke-width="0.45" fill="none"/>
<path d="M171.23 246.2V309.2" stroke="#E9E9E9" stroke-width="0.45" fill="none"/>
<path d="M182.38 246.2V309.2" stroke="#E9E9E9" stroke-width="0.45" fill="none"/>
<path d="M193.53 246.2V309.2" stroke="#E9E9E9" stroke-width="0.45" fill="none"/>
<path d="M204.68 246.2V309.2" stroke="#E9E9E9" stroke-width="0.45" fill="none"/>
<path d="M215.82 246.2V309.2" stroke="#E9E9E9" stroke-width="0.45" fill="none"/>
<path d="M226.98 246.2V309.2" stroke="#E9E9E9" stroke-width="0.45" fill="none"/>
<path d="M145.8 306.7H224.8" stroke="#E9E9E9" stroke-width="0.75" fill="none"/>
<path d="M145.8 287.33H224.8" stroke="#E9E9E9" stroke-width="0.75" fill="none"/>
<path d="M145.8 267.97H224.8" stroke="#E9E9E9" stroke-width="0.75" fill="none"/>
<path d="M145.8 248.6H224.8" stroke="#E9E9E9" stroke-width="0.75" fill="none"/>
<path d="M154.5 246.2V309.2" stroke="#E9E9E9" stroke-width="0.75" fill="none"/>
<path d="M165.65 246.2V309.2" stroke="#E9E9E9" stroke-width="0.75" fill="none"/>
<path d="M176.8 246.2V309.2" stroke="#E9E9E9" stroke-width="0.75" fill="none"/>
<path d="M187.95 246.2V309.2" stroke="#E9E9E9" stroke-width="0.75" fill="none"/>
<path d="M199.1 246.2V309.2" stroke="#E9E9E9" stroke-width="0.75" fill="none"/>
<path d="M210.25 246.2V309.2" stroke="#E9E9E9" stroke-width="0.75" fill="none"/>
<path d="M221.4 246.2V309.2" stroke="#E9E9E9" stroke-width="0.75" fill="none"/>
<path d="M109.9 -79.47L110.18 -58.83L110.46 -47.71L111.02 -41.9L111.57 -42.6L113.25 -75.99L114.36 -73.66L116.59 -32.22L123.28 -86.44L124.95 -106.2L127.18 -71.65L136.66 -17.81L140.56 -29.51L150.04 227.06L153.94 267.58L163.42 286.95" stroke="#4E79A7" stroke-width="1.2" fill="none" stroke-linejoin="round"/>
<path d="M109.9 -100.35L110.18 -45.77L110.46 -29.51L111.02 -55.46L111.57 -65.76L113.25 -70.95L114.36 -62.31L116.59 -30.13L123.28 -86.44L124.95 -82.57L127.18 -75.33L136.66 -44.34L140.56 -27.37L150.04 223.42L153.94 252.86L163.42 277.19" stroke="#F28E2B" stroke-width="1.2" fill="none" stroke-linejoin="round"/>
<path d="M109.9 -36.36L110.18 0.98L110.46 25.88L111.02 0.71L111.57 -0.07L113.25 -14.79L114.36 -13.9L116.59 18.29L123.28 -23.7L124.95 -27.37L127.18 -21.49L136.66 0.71L140.56 0.71L150.04 214.51L153.94 270.68L163.42 285.01" stroke="#E15759" stroke-width="1.2" fill="none" stroke-linejoin="round"/>
<path d="M109.9 177.21L110.18 -16.34L110.46 -80.63L111.02 -136.64L111.57 -137.96L113.25 -139.12L114.36 -100.35L116.59 -87.61L123.28 -64.25L124.95 -16.34L127.18 38.98L136.66 191.66L140.56 207.89L150.04 288.88L153.94 291.21L163.42 299.34" stroke="#76B7B2" stroke-width="1.2" fill="none" stroke-linejoin="round"/>
<path d="M109.9 306.7L110.18 68.49L110.46 -70.95L111.02 -117.62L111.57 -103.87L113.25 -120.06L114.36 -116.66L116.59 -73.66L123.28 -119.56L124.95 -103.49L127.18 -60.49L136.66 125.27L140.56 126.74L150.04 278.04L153.94 281.52L163.42 297.79" stroke="#59A14F" stroke-width="1.2" fill="none" stroke-linejoin="round"/>
<rect x="152.49" y="266.13" width="2.9" height="2.9" fill="#4E79A7"/>
<rect x="161.97" y="285.5" width="2.9" height="2.9" fill="#4E79A7"/>
<rect x="152.49" y="251.41" width="2.9" height="2.9" fill="#F28E2B"/>
<rect x="161.97" y="275.74" width="2.9" height="2.9" fill="#F28E2B"/>
<rect x="152.49" y="269.23" width="2.9" height="2.9" fill="#E15759"/>
<rect x="161.97" y="283.56" width="2.9" height="2.9" fill="#E15759"/>
<rect x="148.59" y="287.43" width="2.9" height="2.9" fill="#76B7B2"/>
<rect x="152.49" y="289.76" width="2.9" height="2.9" fill="#76B7B2"/>
<rect x="161.97" y="297.89" width="2.9" height="2.9" fill="#76B7B2"/>
<rect x="148.59" y="276.59" width="2.9" height="2.9" fill="#59A14F"/>
<rect x="152.49" y="280.07" width="2.9" height="2.9" fill="#59A14F"/>
<rect x="161.97" y="296.34" width="2.9" height="2.9" fill="#59A14F"/>
</g>
<path d="M145.8 246.2H224.8V309.2" stroke="#484848" stroke-width="0.5" fill="none"/>
<path d="M145.8 246.2V309.2H224.8" stroke="#484848" stroke-width="0.8" fill="none" stroke-linecap="square"/>
<path d="M154.5 309.2V311.4" stroke="#333333" stroke-width="0.95" fill="none"/>
<text transform="translate(154.5 316.8) rotate(0.3) scale(0.92 1)" font-size="6.1" fill="#454545" stroke="#454545" stroke-width="0.14" text-anchor="middle">80</text>
<path d="M165.65 309.2V311.4" stroke="#333333" stroke-width="0.95" fill="none"/>
<text transform="translate(165.65 316.8) rotate(0.3) scale(0.92 1)" font-size="6.1" fill="#454545" stroke="#454545" stroke-width="0.14" text-anchor="middle">100</text>
<path d="M176.8 309.2V311.4" stroke="#333333" stroke-width="0.95" fill="none"/>
<text transform="translate(176.8 316.8) rotate(0.3) scale(0.92 1)" font-size="6.1" fill="#454545" stroke="#454545" stroke-width="0.14" text-anchor="middle">120</text>
<path d="M187.95 309.2V311.4" stroke="#333333" stroke-width="0.95" fill="none"/>
<text transform="translate(187.95 316.8) rotate(0.3) scale(0.92 1)" font-size="6.1" fill="#454545" stroke="#454545" stroke-width="0.14" text-anchor="middle">140</text>
<path d="M199.1 309.2V311.4" stroke="#333333" stroke-width="0.95" fill="none"/>
<text transform="translate(199.1 316.8) rotate(0.3) scale(0.92 1)" font-size="6.1" fill="#454545" stroke="#454545" stroke-width="0.14" text-anchor="middle">160</text>
<path d="M210.25 309.2V311.4" stroke="#333333" stroke-width="0.95" fill="none"/>
<text transform="translate(210.25 316.8) rotate(0.3) scale(0.92 1)" font-size="6.1" fill="#454545" stroke="#454545" stroke-width="0.14" text-anchor="middle">180</text>
<path d="M221.4 309.2V311.4" stroke="#333333" stroke-width="0.95" fill="none"/>
<text transform="translate(221.4 316.8) rotate(0.3) scale(0.92 1)" font-size="6.1" fill="#454545" stroke="#454545" stroke-width="0.14" text-anchor="middle">200</text>
<path d="M143 306.7H145.8" stroke="#333333" stroke-width="1.05" fill="none"/>
<text transform="translate(141.3 308.9) rotate(0.3) scale(0.92 1)" font-size="6.1" fill="#454545" stroke="#454545" stroke-width="0.14" text-anchor="end">0</text>
<path d="M143 287.33H145.8" stroke="#333333" stroke-width="1.05" fill="none"/>
<text transform="translate(141.3 289.53) rotate(0.3) scale(0.92 1)" font-size="6.1" fill="#454545" stroke="#454545" stroke-width="0.14" text-anchor="end">500</text>
<path d="M143 267.97H145.8" stroke="#333333" stroke-width="1.05" fill="none"/>
<text transform="translate(141.3 270.17) rotate(0.3) scale(0.92 1)" font-size="6.1" fill="#454545" stroke="#454545" stroke-width="0.14" text-anchor="end">1000</text>
<path d="M143 248.6H145.8" stroke="#333333" stroke-width="1.05" fill="none"/>
<text transform="translate(141.3 250.8) rotate(0.3) scale(0.92 1)" font-size="6.1" fill="#454545" stroke="#454545" stroke-width="0.14" text-anchor="end">1500</text>
<clipPath id="c8"><rect x="355.7" y="246.2" width="78.9" height="63"/></clipPath>
<rect x="355.7" y="246.2" width="78.9" height="63" fill="#fff"/>
<g clip-path="url(#c8)">
<path d="M355.7 297.02H434.6" stroke="#E9E9E9" stroke-width="0.45" fill="none"/>
<path d="M355.7 277.65H434.6" stroke="#E9E9E9" stroke-width="0.45" fill="none"/>
<path d="M355.7 258.28H434.6" stroke="#E9E9E9" stroke-width="0.45" fill="none"/>
<path d="M358.82 246.2V309.2" stroke="#E9E9E9" stroke-width="0.45" fill="none"/>
<path d="M369.97 246.2V309.2" stroke="#E9E9E9" stroke-width="0.45" fill="none"/>
<path d="M381.12 246.2V309.2" stroke="#E9E9E9" stroke-width="0.45" fill="none"/>
<path d="M392.27 246.2V309.2" stroke="#E9E9E9" stroke-width="0.45" fill="none"/>
<path d="M403.42 246.2V309.2" stroke="#E9E9E9" stroke-width="0.45" fill="none"/>
<path d="M414.57 246.2V309.2" stroke="#E9E9E9" stroke-width="0.45" fill="none"/>
<path d="M425.72 246.2V309.2" stroke="#E9E9E9" stroke-width="0.45" fill="none"/>
<path d="M436.87 246.2V309.2" stroke="#E9E9E9" stroke-width="0.45" fill="none"/>
<path d="M355.7 306.7H434.6" stroke="#E9E9E9" stroke-width="0.75" fill="none"/>
<path d="M355.7 287.33H434.6" stroke="#E9E9E9" stroke-width="0.75" fill="none"/>
<path d="M355.7 267.97H434.6" stroke="#E9E9E9" stroke-width="0.75" fill="none"/>
<path d="M355.7 248.6H434.6" stroke="#E9E9E9" stroke-width="0.75" fill="none"/>
<path d="M364.4 246.2V309.2" stroke="#E9E9E9" stroke-width="0.75" fill="none"/>
<path d="M375.55 246.2V309.2" stroke="#E9E9E9" stroke-width="0.75" fill="none"/>
<path d="M386.7 246.2V309.2" stroke="#E9E9E9" stroke-width="0.75" fill="none"/>
<path d="M397.85 246.2V309.2" stroke="#E9E9E9" stroke-width="0.75" fill="none"/>
<path d="M409 246.2V309.2" stroke="#E9E9E9" stroke-width="0.75" fill="none"/>
<path d="M420.15 246.2V309.2" stroke="#E9E9E9" stroke-width="0.75" fill="none"/>
<path d="M431.3 246.2V309.2" stroke="#E9E9E9" stroke-width="0.75" fill="none"/>
<path d="M319.8 -53.52L320.08 -41.9L320.36 -52.55L320.91 -52.55L321.47 -52.55L323.14 -107.75L324.26 -133.31L326.49 -107.75L333.18 -119.37L334.85 -120.72L337.08 -117.04L346.56 -162.75L350.46 -161.2L359.94 109.16L363.84 242.79L373.32 277.84L377.22 273.78L386.7 281.33L400.08 286.17L426.84 293.53" stroke="#4E79A7" stroke-width="1.2" fill="none" stroke-linejoin="round"/>
<path d="M319.8 -126.73L320.08 -65.14L320.36 -56.42L320.91 -57.39L321.47 -72.11L323.14 -106.58L324.26 -111.62L326.49 -92.64L333.18 -103.87L334.85 -100.58L337.08 -121.69L346.56 -116.07L350.46 -92.64L359.94 105.83L363.84 209.87L377.22 246.66L386.7 278.62L400.08 268.74L426.84 287.33" stroke="#F28E2B" stroke-width="1.2" fill="none" stroke-linejoin="round"/>
<path d="M319.8 -30.28L320.08 2.26L320.36 -22.53L320.91 -1.23L321.47 -5.68L323.14 -48.87L324.26 -58.36L326.49 -39.58L333.18 -47.56L334.85 -45.23L337.08 -53.52L346.56 -82.57L350.46 -72.5L359.94 115.16L363.84 215.68L373.32 283.46L377.22 251.31L386.7 286.95L400.08 286.17" stroke="#E15759" stroke-width="1.2" fill="none" stroke-linejoin="round"/>
<path d="M319.8 300.89L320.08 -41.9L320.36 -79.86L320.91 -92.25L321.47 -93.03L323.14 -117.82L324.26 -130.99L326.49 -108.52L333.18 -107.75L334.85 -60.69L337.08 -57.39L346.56 110.52L350.46 112.84L359.94 275.71L363.84 285.78L373.32 288.11L377.22 291.4" stroke="#76B7B2" stroke-width="1.2" fill="none" stroke-linejoin="round"/>
<path d="M319.8 304.76L320.08 -79.86L320.36 -30.28L320.91 -32.22L321.47 -36.86L323.14 -98.06L324.26 -110.07L326.49 -83.34L333.18 -93.42L334.85 -91.09L337.08 -81.8L346.56 -10.91L350.46 -7.04L359.94 235.04L363.84 285.78L373.32 287.33L377.22 290.43L386.7 294.5L400.08 298.57" stroke="#59A14F" stroke-width="1.2" fill="none" stroke-linejoin="round"/>
<rect x="371.87" y="276.39" width="2.9" height="2.9" fill="#4E79A7"/>
<rect x="375.77" y="272.33" width="2.9" height="2.9" fill="#4E79A7"/>
<rect x="385.25" y="279.88" width="2.9" height="2.9" fill="#4E79A7"/>
<rect x="398.63" y="284.72" width="2.9" height="2.9" fill="#4E79A7"/>
<rect x="425.39" y="292.08" width="2.9" height="2.9" fill="#4E79A7"/>
<rect x="375.77" y="245.21" width="2.9" height="2.9" fill="#F28E2B"/>
<rect x="385.25" y="277.17" width="2.9" height="2.9" fill="#F28E2B"/>
<rect x="398.63" y="267.29" width="2.9" height="2.9" fill="#F28E2B"/>
<rect x="425.39" y="285.88" width="2.9" height="2.9" fill="#F28E2B"/>
<rect x="371.87" y="282.01" width="2.9" height="2.9" fill="#E15759"/>
<rect x="375.77" y="249.86" width="2.9" height="2.9" fill="#E15759"/>
<rect x="385.25" y="285.5" width="2.9" height="2.9" fill="#E15759"/>
<rect x="398.63" y="284.72" width="2.9" height="2.9" fill="#E15759"/>
<rect x="358.49" y="274.26" width="2.9" height="2.9" fill="#76B7B2"/>
<rect x="362.39" y="284.33" width="2.9" height="2.9" fill="#76B7B2"/>
<rect x="371.87" y="286.66" width="2.9" height="2.9" fill="#76B7B2"/>
<rect x="375.77" y="289.95" width="2.9" height="2.9" fill="#76B7B2"/>
<rect x="362.39" y="284.33" width="2.9" height="2.9" fill="#59A14F"/>
<rect x="371.87" y="285.88" width="2.9" height="2.9" fill="#59A14F"/>
<rect x="375.77" y="288.98" width="2.9" height="2.9" fill="#59A14F"/>
<rect x="385.25" y="293.05" width="2.9" height="2.9" fill="#59A14F"/>
<rect x="398.63" y="297.12" width="2.9" height="2.9" fill="#59A14F"/>
</g>
<path d="M355.7 246.2H434.6V309.2" stroke="#484848" stroke-width="0.5" fill="none"/>
<path d="M355.7 246.2V309.2H434.6" stroke="#484848" stroke-width="0.8" fill="none" stroke-linecap="square"/>
<path d="M364.4 309.2V311.4" stroke="#333333" stroke-width="0.95" fill="none"/>
<text transform="translate(364.4 316.8) rotate(0.3) scale(0.92 1)" font-size="6.1" fill="#454545" stroke="#454545" stroke-width="0.14" text-anchor="middle">80</text>
<path d="M375.55 309.2V311.4" stroke="#333333" stroke-width="0.95" fill="none"/>
<text transform="translate(375.55 316.8) rotate(0.3) scale(0.92 1)" font-size="6.1" fill="#454545" stroke="#454545" stroke-width="0.14" text-anchor="middle">100</text>
<path d="M386.7 309.2V311.4" stroke="#333333" stroke-width="0.95" fill="none"/>
<text transform="translate(386.7 316.8) rotate(0.3) scale(0.92 1)" font-size="6.1" fill="#454545" stroke="#454545" stroke-width="0.14" text-anchor="middle">120</text>
<path d="M397.85 309.2V311.4" stroke="#333333" stroke-width="0.95" fill="none"/>
<text transform="translate(397.85 316.8) rotate(0.3) scale(0.92 1)" font-size="6.1" fill="#454545" stroke="#454545" stroke-width="0.14" text-anchor="middle">140</text>
<path d="M409 309.2V311.4" stroke="#333333" stroke-width="0.95" fill="none"/>
<text transform="translate(409 316.8) rotate(0.3) scale(0.92 1)" font-size="6.1" fill="#454545" stroke="#454545" stroke-width="0.14" text-anchor="middle">160</text>
<path d="M420.15 309.2V311.4" stroke="#333333" stroke-width="0.95" fill="none"/>
<text transform="translate(420.15 316.8) rotate(0.3) scale(0.92 1)" font-size="6.1" fill="#454545" stroke="#454545" stroke-width="0.14" text-anchor="middle">180</text>
<path d="M431.3 309.2V311.4" stroke="#333333" stroke-width="0.95" fill="none"/>
<text transform="translate(431.3 316.8) rotate(0.3) scale(0.92 1)" font-size="6.1" fill="#454545" stroke="#454545" stroke-width="0.14" text-anchor="middle">200</text>
<path d="M352.9 306.7H355.7" stroke="#333333" stroke-width="1.05" fill="none"/>
<text transform="translate(351.1 308.9) rotate(0.3) scale(0.92 1)" font-size="6.1" fill="#454545" stroke="#454545" stroke-width="0.14" text-anchor="end">0</text>
<path d="M352.9 287.33H355.7" stroke="#333333" stroke-width="1.05" fill="none"/>
<text transform="translate(351.1 289.53) rotate(0.3) scale(0.92 1)" font-size="6.1" fill="#454545" stroke="#454545" stroke-width="0.14" text-anchor="end">500</text>
<path d="M352.9 267.97H355.7" stroke="#333333" stroke-width="1.05" fill="none"/>
<text transform="translate(351.1 270.17) rotate(0.3) scale(0.92 1)" font-size="6.1" fill="#454545" stroke="#454545" stroke-width="0.14" text-anchor="end">1000</text>
<path d="M352.9 248.6H355.7" stroke="#333333" stroke-width="1.05" fill="none"/>
<text transform="translate(351.1 250.8) rotate(0.3) scale(0.92 1)" font-size="6.1" fill="#454545" stroke="#454545" stroke-width="0.14" text-anchor="end">1500</text>
<text transform="translate(138.7 448.9) rotate(0.3) scale(0.946 1)" font-size="6.45" fill="#000" stroke="#000" stroke-width="0.14">Assay</text>
<path d="M160.2 446.7H172.2" stroke="#4E79A7" stroke-width="1" fill="none"/>
<rect x="163.9" y="444.4" width="4.6" height="4.6" fill="#4E79A7"/>
<text transform="translate(176.8 448.9) rotate(0.3) scale(0.946 1)" font-size="6.45" fill="#000" stroke="#000" stroke-width="0.14">EPO</text>
<path d="M194.3 446.7H206" stroke="#F28E2B" stroke-width="1" fill="none"/>
<rect x="197.85" y="444.4" width="4.6" height="4.6" fill="#F28E2B"/>
<text transform="translate(210.9 448.9) rotate(0.3) scale(0.946 1)" font-size="6.45" fill="#000" stroke="#000" stroke-width="0.14">FST</text>
<path d="M227.6 446.7H239.4" stroke="#E15759" stroke-width="1" fill="none"/>
<rect x="231.2" y="444.4" width="4.6" height="4.6" fill="#E15759"/>
<text transform="translate(244 448.9) rotate(0.3) scale(0.946 1)" font-size="6.45" fill="#000" stroke="#000" stroke-width="0.14">GH1</text>
<path d="M261.3 446.7H273" stroke="#76B7B2" stroke-width="1" fill="none"/>
<rect x="264.85" y="444.4" width="4.6" height="4.6" fill="#76B7B2"/>
<text transform="translate(278 448.9) rotate(0.3) scale(0.946 1)" font-size="6.45" fill="#000" stroke="#000" stroke-width="0.14">TNC</text>
<path d="M295.4 446.7H307.3" stroke="#59A14F" stroke-width="1" fill="none"/>
<rect x="299.05" y="444.4" width="4.6" height="4.6" fill="#59A14F"/>
<text transform="translate(312 448.9) rotate(0.3) scale(0.946 1)" font-size="6.45" fill="#000" stroke="#000" stroke-width="0.14">VEGFA</text>
<text transform="translate(3.4 475.4) rotate(0.3)" font-size="14" fill="#000">C</text>
<text transform="translate(6.5 562.2) rotate(-89.7) scale(0.946 1)" font-size="6.45" fill="#000" stroke="#000" stroke-width="0.22" text-anchor="middle" font-weight="bold">Copies detected</text>
<clipPath id="c9"><rect x="28.6" y="474.7" width="203.8" height="173.75"/></clipPath>
<rect x="28.6" y="474.7" width="203.8" height="173.75" fill="#fff"/>
<g clip-path="url(#c9)">
<path d="M28.6 625.8H232.4" stroke="#E9E9E9" stroke-width="0.5" fill="none"/>
<path d="M28.6 594.69H232.4" stroke="#E9E9E9" stroke-width="0.5" fill="none"/>
<path d="M28.6 563.58H232.4" stroke="#E9E9E9" stroke-width="0.5" fill="none"/>
<path d="M28.6 532.47H232.4" stroke="#E9E9E9" stroke-width="0.5" fill="none"/>
<path d="M28.6 501.36H232.4" stroke="#E9E9E9" stroke-width="0.5" fill="none"/>
<path d="M50.5 474.7V648.45" stroke="#E9E9E9" stroke-width="0.5" fill="none"/>
<path d="M76.3 474.7V648.45" stroke="#E9E9E9" stroke-width="0.5" fill="none"/>
<path d="M102.1 474.7V648.45" stroke="#E9E9E9" stroke-width="0.5" fill="none"/>
<path d="M127.9 474.7V648.45" stroke="#E9E9E9" stroke-width="0.5" fill="none"/>
<path d="M153.7 474.7V648.45" stroke="#E9E9E9" stroke-width="0.5" fill="none"/>
<path d="M179.5 474.7V648.45" stroke="#E9E9E9" stroke-width="0.5" fill="none"/>
<path d="M205.3 474.7V648.45" stroke="#E9E9E9" stroke-width="0.5" fill="none"/>
<path d="M231.1 474.7V648.45" stroke="#E9E9E9" stroke-width="0.5" fill="none"/>
<path d="M28.6 641.35H232.4" stroke="#E9E9E9" stroke-width="0.95" fill="none"/>
<path d="M28.6 610.24H232.4" stroke="#E9E9E9" stroke-width="0.95" fill="none"/>
<path d="M28.6 579.13H232.4" stroke="#E9E9E9" stroke-width="0.95" fill="none"/>
<path d="M28.6 548.02H232.4" stroke="#E9E9E9" stroke-width="0.95" fill="none"/>
<path d="M28.6 516.91H232.4" stroke="#E9E9E9" stroke-width="0.95" fill="none"/>
<path d="M28.6 485.8H232.4" stroke="#E9E9E9" stroke-width="0.95" fill="none"/>
<path d="M37.6 474.7V648.45" stroke="#E9E9E9" stroke-width="0.95" fill="none"/>
<path d="M63.4 474.7V648.45" stroke="#E9E9E9" stroke-width="0.95" fill="none"/>
<path d="M89.2 474.7V648.45" stroke="#E9E9E9" stroke-width="0.95" fill="none"/>
<path d="M115 474.7V648.45" stroke="#E9E9E9" stroke-width="0.95" fill="none"/>
<path d="M140.8 474.7V648.45" stroke="#E9E9E9" stroke-width="0.95" fill="none"/>
<path d="M166.6 474.7V648.45" stroke="#E9E9E9" stroke-width="0.95" fill="none"/>
<path d="M192.4 474.7V648.45" stroke="#E9E9E9" stroke-width="0.95" fill="none"/>
<path d="M218.2 474.7V648.45" stroke="#E9E9E9" stroke-width="0.95" fill="none"/>
<path d="M68.56 501.67L72.43 573.22L77.59 612.54L99.52 638.39L108.55 639.42M139.51 640.82L161.44 641.16" stroke="#4E79A7" stroke-width="1.15" fill="none" stroke-linejoin="round"/>
<path d="M68.56 511.09L72.43 577.64L77.59 611.8L99.52 639.61L108.55 639.23L130.48 641.16" stroke="#F28E2B" stroke-width="1.15" fill="none" stroke-linejoin="round"/>
<path d="M68.56 483L72.43 568.18L77.59 612.54L99.52 638.24L108.55 638.8L130.48 640.95" stroke="#E15759" stroke-width="1.15" fill="none" stroke-linejoin="round"/>
<path d="M68.56 497.84L72.43 572.78L77.59 610.64L99.52 637.71L108.55 639.61L130.48 641.07L139.51 641.07" stroke="#76B7B2" stroke-width="1.15" fill="none" stroke-linejoin="round"/>
<rect x="66.21" y="499.32" width="4.7" height="4.7" fill="#4E79A7"/>
<rect x="70.08" y="570.87" width="4.7" height="4.7" fill="#4E79A7"/>
<rect x="75.24" y="610.19" width="4.7" height="4.7" fill="#4E79A7"/>
<rect x="97.17" y="636.04" width="4.7" height="4.7" fill="#4E79A7"/>
<rect x="106.2" y="637.07" width="4.7" height="4.7" fill="#4E79A7"/>
<rect x="137.16" y="638.47" width="4.7" height="4.7" fill="#4E79A7"/>
<rect x="159.09" y="638.81" width="4.7" height="4.7" fill="#4E79A7"/>
<rect x="66.21" y="508.74" width="4.7" height="4.7" fill="#F28E2B"/>
<rect x="70.08" y="575.29" width="4.7" height="4.7" fill="#F28E2B"/>
<rect x="75.24" y="609.45" width="4.7" height="4.7" fill="#F28E2B"/>
<rect x="97.17" y="637.26" width="4.7" height="4.7" fill="#F28E2B"/>
<rect x="106.2" y="636.88" width="4.7" height="4.7" fill="#F28E2B"/>
<rect x="128.13" y="638.81" width="4.7" height="4.7" fill="#F28E2B"/>
<rect x="66.21" y="480.65" width="4.7" height="4.7" fill="#E15759"/>
<rect x="70.08" y="565.83" width="4.7" height="4.7" fill="#E15759"/>
<rect x="75.24" y="610.19" width="4.7" height="4.7" fill="#E15759"/>
<rect x="97.17" y="635.89" width="4.7" height="4.7" fill="#E15759"/>
<rect x="106.2" y="636.45" width="4.7" height="4.7" fill="#E15759"/>
<rect x="128.13" y="638.6" width="4.7" height="4.7" fill="#E15759"/>
<rect x="66.21" y="495.49" width="4.7" height="4.7" fill="#76B7B2"/>
<rect x="70.08" y="570.43" width="4.7" height="4.7" fill="#76B7B2"/>
<rect x="75.24" y="608.29" width="4.7" height="4.7" fill="#76B7B2"/>
<rect x="97.17" y="635.36" width="4.7" height="4.7" fill="#76B7B2"/>
<rect x="106.2" y="637.26" width="4.7" height="4.7" fill="#76B7B2"/>
<rect x="128.13" y="638.72" width="4.7" height="4.7" fill="#76B7B2"/>
<rect x="137.16" y="638.72" width="4.7" height="4.7" fill="#76B7B2"/>
</g>
<rect x="28.6" y="474.7" width="203.8" height="173.75" fill="none" stroke="#484848" stroke-width="0.85"/>
<rect x="28.6" y="461.8" width="203.8" height="12.9" fill="#D9D9D9"/>
<path d="M28.6 461.43V474.7" stroke="#484848" stroke-width="0.85" fill="none"/>
<path d="M232.4 461.43V474.7" stroke="#484848" stroke-width="0.85" fill="none"/>
<path d="M28.18 461.8H232.82" stroke="#484848" stroke-width="0.75" fill="none"/>
<path d="M28.18 474.7H232.82" stroke="#555555" stroke-width="2" fill="none"/>
<text transform="translate(130.5 470.45) rotate(0.3) scale(0.946 1)" font-size="6.45" fill="#1A1A1A" stroke="#1A1A1A" stroke-width="0.14" text-anchor="middle">H1</text>
<path d="M37.6 648.45V651.05" stroke="#333333" stroke-width="1" fill="none"/>
<text transform="translate(37.6 658.3) rotate(0.3) scale(0.945 1)" font-size="6.6" fill="#454545" stroke="#454545" stroke-width="0.14" text-anchor="middle">0</text>
<path d="M63.4 648.45V651.05" stroke="#333333" stroke-width="1" fill="none"/>
<text transform="translate(63.4 658.3) rotate(0.3) scale(0.945 1)" font-size="6.6" fill="#454545" stroke="#454545" stroke-width="0.14" text-anchor="middle">20</text>
<path d="M89.2 648.45V651.05" stroke="#333333" stroke-width="1" fill="none"/>
<text transform="translate(89.2 658.3) rotate(0.3) scale(0.945 1)" font-size="6.6" fill="#454545" stroke="#454545" stroke-width="0.14" text-anchor="middle">40</text>
<path d="M115 648.45V651.05" stroke="#333333" stroke-width="1" fill="none"/>
<text transform="translate(115 658.3) rotate(0.3) scale(0.945 1)" font-size="6.6" fill="#454545" stroke="#454545" stroke-width="0.14" text-anchor="middle">60</text>
<path d="M140.8 648.45V651.05" stroke="#333333" stroke-width="1" fill="none"/>
<text transform="translate(140.8 658.3) rotate(0.3) scale(0.945 1)" font-size="6.6" fill="#454545" stroke="#454545" stroke-width="0.14" text-anchor="middle">80</text>
<path d="M166.6 648.45V651.05" stroke="#333333" stroke-width="1" fill="none"/>
<text transform="translate(166.6 658.3) rotate(0.3) scale(0.945 1)" font-size="6.6" fill="#454545" stroke="#454545" stroke-width="0.14" text-anchor="middle">100</text>
<path d="M192.4 648.45V651.05" stroke="#333333" stroke-width="1" fill="none"/>
<text transform="translate(192.4 658.3) rotate(0.3) scale(0.945 1)" font-size="6.6" fill="#454545" stroke="#454545" stroke-width="0.14" text-anchor="middle">120</text>
<path d="M218.2 648.45V651.05" stroke="#333333" stroke-width="1" fill="none"/>
<text transform="translate(218.2 658.3) rotate(0.3) scale(0.945 1)" font-size="6.6" fill="#454545" stroke="#454545" stroke-width="0.14" text-anchor="middle">140</text>
<path d="M25.7 641.35H28.6" stroke="#333333" stroke-width="1.05" fill="none"/>
<text transform="translate(24.4 643.65) rotate(0.3) scale(0.945 1)" font-size="6.6" fill="#454545" stroke="#454545" stroke-width="0.14" text-anchor="end">0</text>
<path d="M25.7 610.24H28.6" stroke="#333333" stroke-width="1.05" fill="none"/>
<text transform="translate(24.4 612.54) rotate(0.3) scale(0.945 1)" font-size="6.6" fill="#454545" stroke="#454545" stroke-width="0.14" text-anchor="end">1000</text>
<path d="M25.7 579.13H28.6" stroke="#333333" stroke-width="1.05" fill="none"/>
<text transform="translate(24.4 581.43) rotate(0.3) scale(0.945 1)" font-size="6.6" fill="#454545" stroke="#454545" stroke-width="0.14" text-anchor="end">2000</text>
<path d="M25.7 548.02H28.6" stroke="#333333" stroke-width="1.05" fill="none"/>
<text transform="translate(24.4 550.32) rotate(0.3) scale(0.945 1)" font-size="6.6" fill="#454545" stroke="#454545" stroke-width="0.14" text-anchor="end">3000</text>
<path d="M25.7 516.91H28.6" stroke="#333333" stroke-width="1.05" fill="none"/>
<text transform="translate(24.4 519.21) rotate(0.3) scale(0.945 1)" font-size="6.6" fill="#454545" stroke="#454545" stroke-width="0.14" text-anchor="end">4000</text>
<path d="M25.7 485.8H28.6" stroke="#333333" stroke-width="1.05" fill="none"/>
<text transform="translate(24.4 488.1) rotate(0.3) scale(0.945 1)" font-size="6.6" fill="#454545" stroke="#454545" stroke-width="0.14" text-anchor="end">5000</text>
<clipPath id="c10"><rect x="237.8" y="474.7" width="203.7" height="173.75"/></clipPath>
<rect x="237.8" y="474.7" width="203.7" height="173.75" fill="#fff"/>
<g clip-path="url(#c10)">
<path d="M237.8 625.8H441.5" stroke="#E9E9E9" stroke-width="0.5" fill="none"/>
<path d="M237.8 594.69H441.5" stroke="#E9E9E9" stroke-width="0.5" fill="none"/>
<path d="M237.8 563.58H441.5" stroke="#E9E9E9" stroke-width="0.5" fill="none"/>
<path d="M237.8 532.47H441.5" stroke="#E9E9E9" stroke-width="0.5" fill="none"/>
<path d="M237.8 501.36H441.5" stroke="#E9E9E9" stroke-width="0.5" fill="none"/>
<path d="M259.97 474.7V648.45" stroke="#E9E9E9" stroke-width="0.5" fill="none"/>
<path d="M285.71 474.7V648.45" stroke="#E9E9E9" stroke-width="0.5" fill="none"/>
<path d="M311.45 474.7V648.45" stroke="#E9E9E9" stroke-width="0.5" fill="none"/>
<path d="M337.19 474.7V648.45" stroke="#E9E9E9" stroke-width="0.5" fill="none"/>
<path d="M362.93 474.7V648.45" stroke="#E9E9E9" stroke-width="0.5" fill="none"/>
<path d="M388.67 474.7V648.45" stroke="#E9E9E9" stroke-width="0.5" fill="none"/>
<path d="M414.41 474.7V648.45" stroke="#E9E9E9" stroke-width="0.5" fill="none"/>
<path d="M440.15 474.7V648.45" stroke="#E9E9E9" stroke-width="0.5" fill="none"/>
<path d="M237.8 641.35H441.5" stroke="#E9E9E9" stroke-width="0.95" fill="none"/>
<path d="M237.8 610.24H441.5" stroke="#E9E9E9" stroke-width="0.95" fill="none"/>
<path d="M237.8 579.13H441.5" stroke="#E9E9E9" stroke-width="0.95" fill="none"/>
<path d="M237.8 548.02H441.5" stroke="#E9E9E9" stroke-width="0.95" fill="none"/>
<path d="M237.8 516.91H441.5" stroke="#E9E9E9" stroke-width="0.95" fill="none"/>
<path d="M237.8 485.8H441.5" stroke="#E9E9E9" stroke-width="0.95" fill="none"/>
<path d="M247.1 474.7V648.45" stroke="#E9E9E9" stroke-width="0.95" fill="none"/>
<path d="M272.84 474.7V648.45" stroke="#E9E9E9" stroke-width="0.95" fill="none"/>
<path d="M298.58 474.7V648.45" stroke="#E9E9E9" stroke-width="0.95" fill="none"/>
<path d="M324.32 474.7V648.45" stroke="#E9E9E9" stroke-width="0.95" fill="none"/>
<path d="M350.06 474.7V648.45" stroke="#E9E9E9" stroke-width="0.95" fill="none"/>
<path d="M375.8 474.7V648.45" stroke="#E9E9E9" stroke-width="0.95" fill="none"/>
<path d="M401.54 474.7V648.45" stroke="#E9E9E9" stroke-width="0.95" fill="none"/>
<path d="M427.28 474.7V648.45" stroke="#E9E9E9" stroke-width="0.95" fill="none"/>
<path d="M308.88 613.1L317.88 614.28L339.76 640.59M348.77 641.02L370.65 641.15L379.66 641.15L401.54 641.15" stroke="#4E79A7" stroke-width="1.15" fill="none" stroke-linejoin="round"/>
<path d="M308.88 615.84L317.88 616.62L339.76 640.92" stroke="#F28E2B" stroke-width="1.15" fill="none" stroke-linejoin="round"/>
<path d="M308.88 614.91L317.88 615.59L339.76 640.79" stroke="#E15759" stroke-width="1.15" fill="none" stroke-linejoin="round"/>
<path d="M308.88 615.12L317.88 612.6L339.76 640.79L348.77 640.95" stroke="#76B7B2" stroke-width="1.15" fill="none" stroke-linejoin="round"/>
<rect x="306.53" y="610.75" width="4.7" height="4.7" fill="#4E79A7"/>
<rect x="315.53" y="611.93" width="4.7" height="4.7" fill="#4E79A7"/>
<rect x="337.41" y="638.24" width="4.7" height="4.7" fill="#4E79A7"/>
<rect x="346.42" y="638.67" width="4.7" height="4.7" fill="#4E79A7"/>
<rect x="368.3" y="638.8" width="4.7" height="4.7" fill="#4E79A7"/>
<rect x="377.31" y="638.8" width="4.7" height="4.7" fill="#4E79A7"/>
<rect x="399.19" y="638.8" width="4.7" height="4.7" fill="#4E79A7"/>
<rect x="306.53" y="613.49" width="4.7" height="4.7" fill="#F28E2B"/>
<rect x="315.53" y="614.27" width="4.7" height="4.7" fill="#F28E2B"/>
<rect x="337.41" y="638.57" width="4.7" height="4.7" fill="#F28E2B"/>
<rect x="346.42" y="638.8" width="4.7" height="4.7" fill="#F28E2B"/>
<rect x="306.53" y="612.56" width="4.7" height="4.7" fill="#E15759"/>
<rect x="315.53" y="613.24" width="4.7" height="4.7" fill="#E15759"/>
<rect x="337.41" y="638.44" width="4.7" height="4.7" fill="#E15759"/>
<rect x="346.42" y="638.8" width="4.7" height="4.7" fill="#E15759"/>
<rect x="306.53" y="612.77" width="4.7" height="4.7" fill="#76B7B2"/>
<rect x="315.53" y="610.25" width="4.7" height="4.7" fill="#76B7B2"/>
<rect x="337.41" y="638.44" width="4.7" height="4.7" fill="#76B7B2"/>
<rect x="346.42" y="638.6" width="4.7" height="4.7" fill="#76B7B2"/>
<rect x="399.19" y="638.8" width="4.7" height="4.7" fill="#76B7B2"/>
</g>
<rect x="237.8" y="474.7" width="203.7" height="173.75" fill="none" stroke="#484848" stroke-width="0.85"/>
<rect x="237.8" y="461.8" width="203.7" height="12.9" fill="#D9D9D9"/>
<path d="M237.8 461.43V474.7" stroke="#484848" stroke-width="0.85" fill="none"/>
<path d="M441.5 461.43V474.7" stroke="#484848" stroke-width="0.85" fill="none"/>
<path d="M237.38 461.8H441.92" stroke="#484848" stroke-width="0.75" fill="none"/>
<path d="M237.38 474.7H441.92" stroke="#555555" stroke-width="2" fill="none"/>
<text transform="translate(339.65 470.45) rotate(0.3) scale(0.946 1)" font-size="6.45" fill="#1A1A1A" stroke="#1A1A1A" stroke-width="0.14" text-anchor="middle">H2</text>
<path d="M247.1 648.45V651.05" stroke="#333333" stroke-width="1" fill="none"/>
<text transform="translate(247.1 658.3) rotate(0.3) scale(0.945 1)" font-size="6.6" fill="#454545" stroke="#454545" stroke-width="0.14" text-anchor="middle">0</text>
<path d="M272.84 648.45V651.05" stroke="#333333" stroke-width="1" fill="none"/>
<text transform="translate(272.84 658.3) rotate(0.3) scale(0.945 1)" font-size="6.6" fill="#454545" stroke="#454545" stroke-width="0.14" text-anchor="middle">20</text>
<path d="M298.58 648.45V651.05" stroke="#333333" stroke-width="1" fill="none"/>
<text transform="translate(298.58 658.3) rotate(0.3) scale(0.945 1)" font-size="6.6" fill="#454545" stroke="#454545" stroke-width="0.14" text-anchor="middle">40</text>
<path d="M324.32 648.45V651.05" stroke="#333333" stroke-width="1" fill="none"/>
<text transform="translate(324.32 658.3) rotate(0.3) scale(0.945 1)" font-size="6.6" fill="#454545" stroke="#454545" stroke-width="0.14" text-anchor="middle">60</text>
<path d="M350.06 648.45V651.05" stroke="#333333" stroke-width="1" fill="none"/>
<text transform="translate(350.06 658.3) rotate(0.3) scale(0.945 1)" font-size="6.6" fill="#454545" stroke="#454545" stroke-width="0.14" text-anchor="middle">80</text>
<path d="M375.8 648.45V651.05" stroke="#333333" stroke-width="1" fill="none"/>
<text transform="translate(375.8 658.3) rotate(0.3) scale(0.945 1)" font-size="6.6" fill="#454545" stroke="#454545" stroke-width="0.14" text-anchor="middle">100</text>
<path d="M401.54 648.45V651.05" stroke="#333333" stroke-width="1" fill="none"/>
<text transform="translate(401.54 658.3) rotate(0.3) scale(0.945 1)" font-size="6.6" fill="#454545" stroke="#454545" stroke-width="0.14" text-anchor="middle">120</text>
<path d="M427.28 648.45V651.05" stroke="#333333" stroke-width="1" fill="none"/>
<text transform="translate(427.28 658.3) rotate(0.3) scale(0.945 1)" font-size="6.6" fill="#454545" stroke="#454545" stroke-width="0.14" text-anchor="middle">140</text>
<text transform="translate(235 665.6) rotate(0.3) scale(0.946 1)" font-size="6.45" fill="#000" stroke="#000" stroke-width="0.22" text-anchor="middle" font-weight="bold">Hrs post-admin</text>
<rect x="106.5" y="482.8" width="123" height="50.2" fill="#fff"/>
<clipPath id="c11"><rect x="118.6" y="483.3" width="108.2" height="49"/></clipPath>
<rect x="118.6" y="483.3" width="108.2" height="49" fill="#fff"/>
<g clip-path="url(#c11)">
<path d="M118.6 525.92H226.8" stroke="#E9E9E9" stroke-width="0.45" fill="none"/>
<path d="M118.6 516.96H226.8" stroke="#E9E9E9" stroke-width="0.45" fill="none"/>
<path d="M118.6 508H226.8" stroke="#E9E9E9" stroke-width="0.45" fill="none"/>
<path d="M118.6 499.04H226.8" stroke="#E9E9E9" stroke-width="0.45" fill="none"/>
<path d="M118.6 490.08H226.8" stroke="#E9E9E9" stroke-width="0.45" fill="none"/>
<path d="M130.08 483.3V532.3" stroke="#E9E9E9" stroke-width="0.45" fill="none"/>
<path d="M152.94 483.3V532.3" stroke="#E9E9E9" stroke-width="0.45" fill="none"/>
<path d="M175.8 483.3V532.3" stroke="#E9E9E9" stroke-width="0.45" fill="none"/>
<path d="M198.66 483.3V532.3" stroke="#E9E9E9" stroke-width="0.45" fill="none"/>
<path d="M221.52 483.3V532.3" stroke="#E9E9E9" stroke-width="0.45" fill="none"/>
<path d="M118.6 530.4H226.8" stroke="#E9E9E9" stroke-width="0.75" fill="none"/>
<path d="M118.6 521.44H226.8" stroke="#E9E9E9" stroke-width="0.75" fill="none"/>
<path d="M118.6 512.48H226.8" stroke="#E9E9E9" stroke-width="0.75" fill="none"/>
<path d="M118.6 503.52H226.8" stroke="#E9E9E9" stroke-width="0.75" fill="none"/>
<path d="M118.6 494.56H226.8" stroke="#E9E9E9" stroke-width="0.75" fill="none"/>
<path d="M118.6 485.6H226.8" stroke="#E9E9E9" stroke-width="0.75" fill="none"/>
<path d="M118.65 483.3V532.3" stroke="#E9E9E9" stroke-width="0.75" fill="none"/>
<path d="M141.51 483.3V532.3" stroke="#E9E9E9" stroke-width="0.75" fill="none"/>
<path d="M164.37 483.3V532.3" stroke="#E9E9E9" stroke-width="0.75" fill="none"/>
<path d="M187.23 483.3V532.3" stroke="#E9E9E9" stroke-width="0.75" fill="none"/>
<path d="M210.09 483.3V532.3" stroke="#E9E9E9" stroke-width="0.75" fill="none"/>
<path d="M109.51 -3492.64L111.22 -1431.84L113.51 -299.3L123.22 445.28L127.22 474.85M140.94 515.17L150.65 525.02" stroke="#4E79A7" stroke-width="1.2" fill="none" stroke-linejoin="round"/>
<path d="M109.51 -3221.15L111.22 -1304.61L113.51 -320.8L123.22 480.22L127.22 469.47L136.94 525.02" stroke="#F28E2B" stroke-width="1.2" fill="none" stroke-linejoin="round"/>
<path d="M109.51 -4030.24L111.22 -1576.99L113.51 -299.3L123.22 440.8L127.22 456.93L136.94 518.75" stroke="#E15759" stroke-width="1.2" fill="none" stroke-linejoin="round"/>
<path d="M109.51 -3602.85L111.22 -1444.38L113.51 -353.95L123.22 425.57L127.22 480.22L136.94 522.34L140.94 522.34" stroke="#76B7B2" stroke-width="1.2" fill="none" stroke-linejoin="round"/>
<rect x="139.49" y="513.72" width="2.9" height="2.9" fill="#4E79A7"/>
<rect x="149.2" y="523.57" width="2.9" height="2.9" fill="#4E79A7"/>
<rect x="135.49" y="523.57" width="2.9" height="2.9" fill="#F28E2B"/>
<rect x="135.49" y="517.3" width="2.9" height="2.9" fill="#E15759"/>
<rect x="135.49" y="520.89" width="2.9" height="2.9" fill="#76B7B2"/>
<rect x="139.49" y="520.89" width="2.9" height="2.9" fill="#76B7B2"/>
</g>
<path d="M118.6 483.3H226.8V532.3" stroke="#484848" stroke-width="0.5" fill="none"/>
<path d="M118.6 483.3V532.3H226.8" stroke="#484848" stroke-width="0.8" fill="none" stroke-linecap="square"/>
<path d="M118.65 532.3V534.5" stroke="#333333" stroke-width="0.95" fill="none"/>
<text transform="translate(118.65 541.5) rotate(0.3) scale(0.955 1)" font-size="6.5" fill="#454545" stroke="#454545" stroke-width="0.14" text-anchor="middle">40</text>
<path d="M141.51 532.3V534.5" stroke="#333333" stroke-width="0.95" fill="none"/>
<text transform="translate(141.51 541.5) rotate(0.3) scale(0.955 1)" font-size="6.5" fill="#454545" stroke="#454545" stroke-width="0.14" text-anchor="middle">80</text>
<path d="M164.37 532.3V534.5" stroke="#333333" stroke-width="0.95" fill="none"/>
<text transform="translate(164.37 541.5) rotate(0.3) scale(0.955 1)" font-size="6.5" fill="#454545" stroke="#454545" stroke-width="0.14" text-anchor="middle">120</text>
<path d="M187.23 532.3V534.5" stroke="#333333" stroke-width="0.95" fill="none"/>
<text transform="translate(187.23 541.5) rotate(0.3) scale(0.955 1)" font-size="6.5" fill="#454545" stroke="#454545" stroke-width="0.14" text-anchor="middle">160</text>
<path d="M210.09 532.3V534.5" stroke="#333333" stroke-width="0.95" fill="none"/>
<text transform="translate(210.09 541.5) rotate(0.3) scale(0.955 1)" font-size="6.5" fill="#454545" stroke="#454545" stroke-width="0.14" text-anchor="middle">200</text>
<path d="M115.8 530.4H118.6" stroke="#333333" stroke-width="1.05" fill="none"/>
<text transform="translate(114.6 532.6) rotate(0.3) scale(0.955 1)" font-size="6.5" fill="#454545" stroke="#454545" stroke-width="0.14" text-anchor="end">0</text>
<path d="M115.8 521.44H118.6" stroke="#333333" stroke-width="1.05" fill="none"/>
<text transform="translate(114.6 523.64) rotate(0.3) scale(0.955 1)" font-size="6.5" fill="#454545" stroke="#454545" stroke-width="0.14" text-anchor="end">10</text>
<path d="M115.8 512.48H118.6" stroke="#333333" stroke-width="1.05" fill="none"/>
<text transform="translate(114.6 514.68) rotate(0.3) scale(0.955 1)" font-size="6.5" fill="#454545" stroke="#454545" stroke-width="0.14" text-anchor="end">20</text>
<path d="M115.8 503.52H118.6" stroke="#333333" stroke-width="1.05" fill="none"/>
<text transform="translate(114.6 505.72) rotate(0.3) scale(0.955 1)" font-size="6.5" fill="#454545" stroke="#454545" stroke-width="0.14" text-anchor="end">30</text>
<path d="M115.8 494.56H118.6" stroke="#333333" stroke-width="1.05" fill="none"/>
<text transform="translate(114.6 496.76) rotate(0.3) scale(0.955 1)" font-size="6.5" fill="#454545" stroke="#454545" stroke-width="0.14" text-anchor="end">40</text>
<path d="M115.8 485.6H118.6" stroke="#333333" stroke-width="1.05" fill="none"/>
<text transform="translate(114.6 487.8) rotate(0.3) scale(0.955 1)" font-size="6.5" fill="#454545" stroke="#454545" stroke-width="0.14" text-anchor="end">50</text>
<rect x="316" y="482.1" width="123" height="50.1" fill="#fff"/>
<clipPath id="c12"><rect x="328.7" y="482.6" width="107.7" height="49"/></clipPath>
<rect x="328.7" y="482.6" width="107.7" height="49" fill="#fff"/>
<g clip-path="url(#c12)">
<path d="M328.7 525.12H436.4" stroke="#E9E9E9" stroke-width="0.45" fill="none"/>
<path d="M328.7 516.16H436.4" stroke="#E9E9E9" stroke-width="0.45" fill="none"/>
<path d="M328.7 507.2H436.4" stroke="#E9E9E9" stroke-width="0.45" fill="none"/>
<path d="M328.7 498.24H436.4" stroke="#E9E9E9" stroke-width="0.45" fill="none"/>
<path d="M328.7 489.28H436.4" stroke="#E9E9E9" stroke-width="0.45" fill="none"/>
<path d="M340.05 482.6V531.6" stroke="#E9E9E9" stroke-width="0.45" fill="none"/>
<path d="M362.75 482.6V531.6" stroke="#E9E9E9" stroke-width="0.45" fill="none"/>
<path d="M385.45 482.6V531.6" stroke="#E9E9E9" stroke-width="0.45" fill="none"/>
<path d="M408.15 482.6V531.6" stroke="#E9E9E9" stroke-width="0.45" fill="none"/>
<path d="M430.85 482.6V531.6" stroke="#E9E9E9" stroke-width="0.45" fill="none"/>
<path d="M328.7 529.6H436.4" stroke="#E9E9E9" stroke-width="0.75" fill="none"/>
<path d="M328.7 520.64H436.4" stroke="#E9E9E9" stroke-width="0.75" fill="none"/>
<path d="M328.7 511.68H436.4" stroke="#E9E9E9" stroke-width="0.75" fill="none"/>
<path d="M328.7 502.72H436.4" stroke="#E9E9E9" stroke-width="0.75" fill="none"/>
<path d="M328.7 493.76H436.4" stroke="#E9E9E9" stroke-width="0.75" fill="none"/>
<path d="M328.7 484.8H436.4" stroke="#E9E9E9" stroke-width="0.75" fill="none"/>
<path d="M328.7 482.6V531.6" stroke="#E9E9E9" stroke-width="0.75" fill="none"/>
<path d="M351.4 482.6V531.6" stroke="#E9E9E9" stroke-width="0.75" fill="none"/>
<path d="M374.1 482.6V531.6" stroke="#E9E9E9" stroke-width="0.75" fill="none"/>
<path d="M396.8 482.6V531.6" stroke="#E9E9E9" stroke-width="0.75" fill="none"/>
<path d="M419.5 482.6V531.6" stroke="#E9E9E9" stroke-width="0.75" fill="none"/>
<path d="M333.24 -283.97L337.21 -249.92L346.86 507.83L350.83 520.1L360.48 523.78L364.45 523.78L374.1 523.78" stroke="#4E79A7" stroke-width="1.2" fill="none" stroke-linejoin="round"/>
<path d="M333.24 -205.12L337.21 -182.72L346.86 517.32L350.83 523.78" stroke="#F28E2B" stroke-width="1.2" fill="none" stroke-linejoin="round"/>
<path d="M333.24 -232L337.21 -212.29L346.86 513.47L350.83 523.78" stroke="#E15759" stroke-width="1.2" fill="none" stroke-linejoin="round"/>
<path d="M333.24 -225.73L337.21 -298.3L346.86 513.47L350.83 517.95" stroke="#76B7B2" stroke-width="1.2" fill="none" stroke-linejoin="round"/>
<rect x="345.41" y="506.38" width="2.9" height="2.9" fill="#4E79A7"/>
<rect x="349.38" y="518.65" width="2.9" height="2.9" fill="#4E79A7"/>
<rect x="359.03" y="522.33" width="2.9" height="2.9" fill="#4E79A7"/>
<rect x="363" y="522.33" width="2.9" height="2.9" fill="#4E79A7"/>
<rect x="372.65" y="522.33" width="2.9" height="2.9" fill="#4E79A7"/>
<rect x="345.41" y="515.87" width="2.9" height="2.9" fill="#F28E2B"/>
<rect x="349.38" y="522.33" width="2.9" height="2.9" fill="#F28E2B"/>
<rect x="345.41" y="512.02" width="2.9" height="2.9" fill="#E15759"/>
<rect x="349.38" y="522.33" width="2.9" height="2.9" fill="#E15759"/>
<rect x="345.41" y="512.02" width="2.9" height="2.9" fill="#76B7B2"/>
<rect x="349.38" y="516.5" width="2.9" height="2.9" fill="#76B7B2"/>
<rect x="372.65" y="522.33" width="2.9" height="2.9" fill="#76B7B2"/>
</g>
<path d="M328.7 482.6H436.4V531.6" stroke="#484848" stroke-width="0.5" fill="none"/>
<path d="M328.7 482.6V531.6H436.4" stroke="#484848" stroke-width="0.8" fill="none" stroke-linecap="square"/>
<path d="M328.7 531.6V533.8" stroke="#333333" stroke-width="0.95" fill="none"/>
<text transform="translate(328.7 540.8) rotate(0.3) scale(0.955 1)" font-size="6.5" fill="#454545" stroke="#454545" stroke-width="0.14" text-anchor="middle">40</text>
<path d="M351.4 531.6V533.8" stroke="#333333" stroke-width="0.95" fill="none"/>
<text transform="translate(351.4 540.8) rotate(0.3) scale(0.955 1)" font-size="6.5" fill="#454545" stroke="#454545" stroke-width="0.14" text-anchor="middle">80</text>
<path d="M374.1 531.6V533.8" stroke="#333333" stroke-width="0.95" fill="none"/>
<text transform="translate(374.1 540.8) rotate(0.3) scale(0.955 1)" font-size="6.5" fill="#454545" stroke="#454545" stroke-width="0.14" text-anchor="middle">120</text>
<path d="M396.8 531.6V533.8" stroke="#333333" stroke-width="0.95" fill="none"/>
<text transform="translate(396.8 540.8) rotate(0.3) scale(0.955 1)" font-size="6.5" fill="#454545" stroke="#454545" stroke-width="0.14" text-anchor="middle">160</text>
<path d="M419.5 531.6V533.8" stroke="#333333" stroke-width="0.95" fill="none"/>
<text transform="translate(419.5 540.8) rotate(0.3) scale(0.955 1)" font-size="6.5" fill="#454545" stroke="#454545" stroke-width="0.14" text-anchor="middle">200</text>
<path d="M325.9 529.6H328.7" stroke="#333333" stroke-width="1.05" fill="none"/>
<text transform="translate(325.2 531.8) rotate(0.3) scale(0.955 1)" font-size="6.5" fill="#454545" stroke="#454545" stroke-width="0.14" text-anchor="end">0</text>
<path d="M325.9 520.64H328.7" stroke="#333333" stroke-width="1.05" fill="none"/>
<text transform="translate(325.2 522.84) rotate(0.3) scale(0.955 1)" font-size="6.5" fill="#454545" stroke="#454545" stroke-width="0.14" text-anchor="end">10</text>
<path d="M325.9 511.68H328.7" stroke="#333333" stroke-width="1.05" fill="none"/>
<text transform="translate(325.2 513.88) rotate(0.3) scale(0.955 1)" font-size="6.5" fill="#454545" stroke="#454545" stroke-width="0.14" text-anchor="end">20</text>
<path d="M325.9 502.72H328.7" stroke="#333333" stroke-width="1.05" fill="none"/>
<text transform="translate(325.2 504.92) rotate(0.3) scale(0.955 1)" font-size="6.5" fill="#454545" stroke="#454545" stroke-width="0.14" text-anchor="end">30</text>
<path d="M325.9 493.76H328.7" stroke="#333333" stroke-width="1.05" fill="none"/>
<text transform="translate(325.2 495.96) rotate(0.3) scale(0.955 1)" font-size="6.5" fill="#454545" stroke="#454545" stroke-width="0.14" text-anchor="end">40</text>
<path d="M325.9 484.8H328.7" stroke="#333333" stroke-width="1.05" fill="none"/>
<text transform="translate(325.2 487) rotate(0.3) scale(0.955 1)" font-size="6.5" fill="#454545" stroke="#454545" stroke-width="0.14" text-anchor="end">50</text>
<text transform="translate(154.3 679.2) rotate(0.3) scale(0.946 1)" font-size="6.45" fill="#000" stroke="#000" stroke-width="0.14">Assay</text>
<path d="M176.3 677H188.2" stroke="#4E79A7" stroke-width="1" fill="none"/>
<rect x="179.95" y="674.7" width="4.6" height="4.6" fill="#4E79A7"/>
<text transform="translate(192.9 679.2) rotate(0.3) scale(0.946 1)" font-size="6.45" fill="#000" stroke="#000" stroke-width="0.14">EPO</text>
<path d="M210.8 677H222.8" stroke="#F28E2B" stroke-width="1" fill="none"/>
<rect x="214.5" y="674.7" width="4.6" height="4.6" fill="#F28E2B"/>
<text transform="translate(227.7 679.2) rotate(0.3) scale(0.946 1)" font-size="6.45" fill="#000" stroke="#000" stroke-width="0.14">GFP</text>
<path d="M245 677H256.8" stroke="#E15759" stroke-width="1" fill="none"/>
<rect x="248.6" y="674.7" width="4.6" height="4.6" fill="#E15759"/>
<text transform="translate(261.5 679.2) rotate(0.3) scale(0.946 1)" font-size="6.45" fill="#000" stroke="#000" stroke-width="0.14">TNC</text>
<path d="M279.2 677H291" stroke="#76B7B2" stroke-width="1" fill="none"/>
<rect x="282.8" y="674.7" width="4.6" height="4.6" fill="#76B7B2"/>
<text transform="translate(295.6 679.2) rotate(0.3) scale(0.946 1)" font-size="6.45" fill="#000" stroke="#000" stroke-width="0.14">VEGFA</text>
</svg>
</body></html>
